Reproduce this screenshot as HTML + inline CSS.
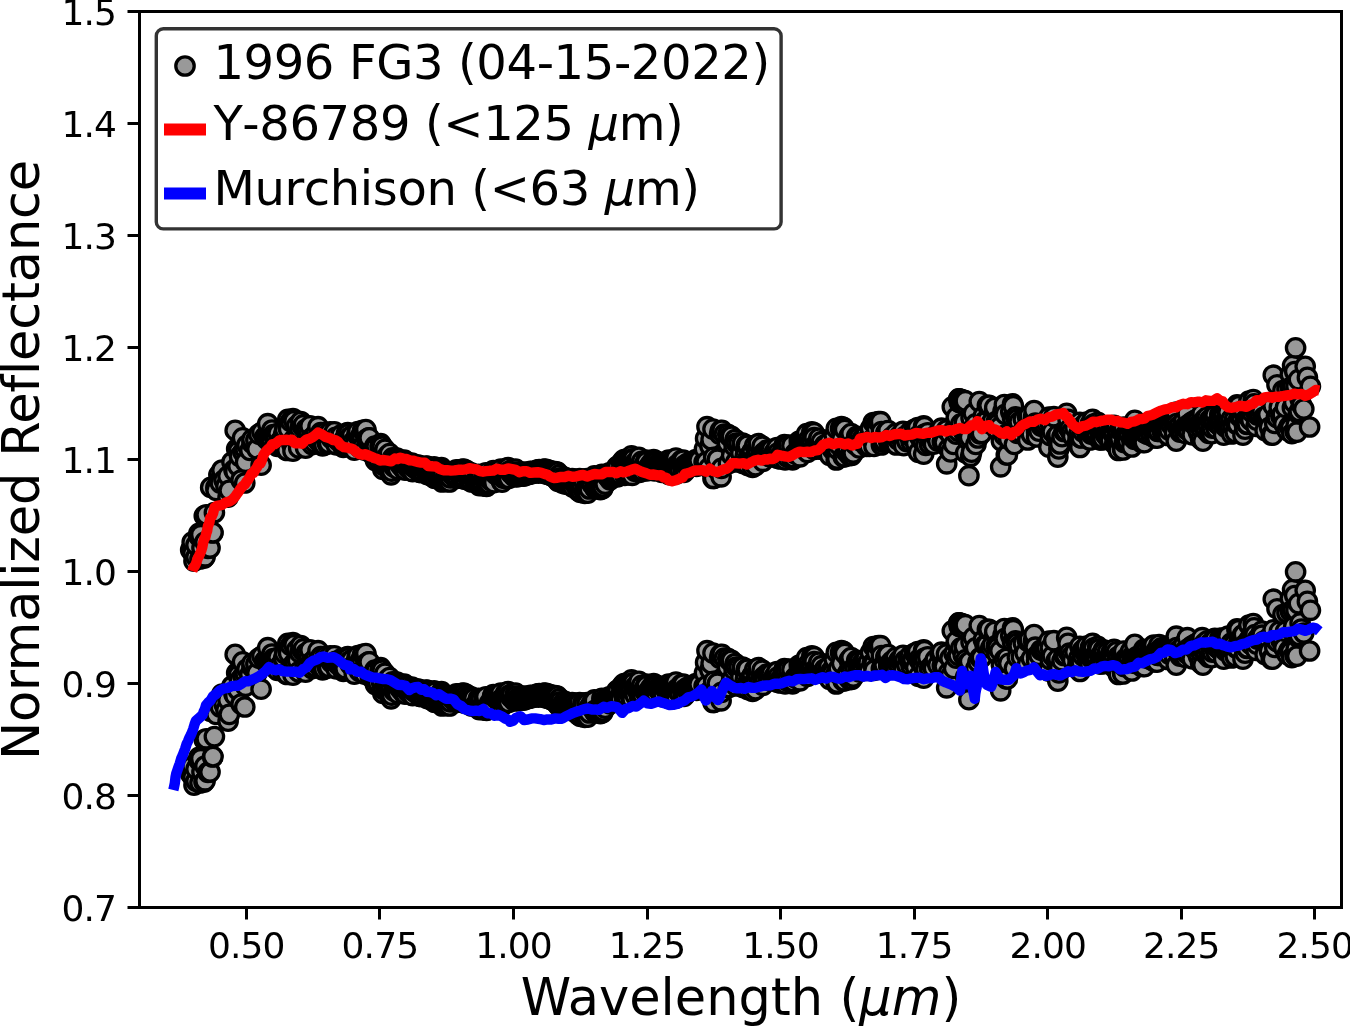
<!DOCTYPE html>
<html><head><meta charset="utf-8"><title>Normalized Reflectance</title>
<style>
html,body{margin:0;padding:0;background:#fff;}
body{width:1350px;height:1033px;overflow:hidden;}
svg{display:block;}
text{font-family:"DejaVu Sans", "Liberation Sans", sans-serif;fill:#000;}
.tk{font-size:36px;letter-spacing:-0.9px;}
.lg{font-size:48px;letter-spacing:-0.38px;font-kerning:none;}
.al{font-size:51px;}
.it{font-style:italic;}
</style></head><body>
<svg width="1350" height="1033" viewBox="0 0 1350 1033">
<rect x="0" y="0" width="1350" height="1033" fill="#fff"/>
<g fill="#999" stroke="#000" stroke-width="3.3"><circle cx="190.7" cy="550.0" r="9.2"/><circle cx="191.7" cy="548.4" r="9.2"/><circle cx="192.2" cy="542.2" r="9.2"/><circle cx="193.0" cy="553.0" r="9.2"/><circle cx="194.0" cy="561.1" r="9.2"/><circle cx="196.0" cy="557.0" r="9.2"/><circle cx="196.0" cy="545.0" r="9.2"/><circle cx="198.7" cy="536.0" r="9.2"/><circle cx="198.9" cy="533.3" r="9.2"/><circle cx="200.0" cy="559.0" r="9.2"/><circle cx="200.9" cy="534.7" r="9.2"/><circle cx="202.0" cy="548.0" r="9.2"/><circle cx="204.0" cy="558.0" r="9.2"/><circle cx="204.3" cy="515.9" r="9.2"/><circle cx="205.0" cy="542.0" r="9.2"/><circle cx="205.1" cy="556.8" r="9.2"/><circle cx="206.3" cy="514.8" r="9.2"/><circle cx="207.9" cy="548.4" r="9.2"/><circle cx="209.4" cy="547.5" r="9.2"/><circle cx="210.0" cy="548.0" r="9.2"/><circle cx="210.7" cy="487.4" r="9.2"/><circle cx="212.6" cy="533.0" r="9.2"/><circle cx="213.0" cy="532.6" r="9.2"/><circle cx="214.4" cy="512.6" r="9.2"/><circle cx="215.9" cy="487.4" r="9.2"/><circle cx="216.2" cy="490.4" r="9.2"/><circle cx="218.9" cy="474.8" r="9.2"/><circle cx="219.6" cy="480.2" r="9.2"/><circle cx="220.4" cy="483.0" r="9.2"/><circle cx="222.0" cy="470.0" r="9.2"/><circle cx="224.0" cy="480.0" r="9.2"/><circle cx="226.0" cy="486.0" r="9.2"/><circle cx="228.0" cy="476.0" r="9.2"/><circle cx="228.1" cy="497.2" r="9.2"/><circle cx="229.3" cy="490.4" r="9.2"/><circle cx="232.0" cy="462.0" r="9.2"/><circle cx="234.0" cy="470.0" r="9.2"/><circle cx="235.0" cy="471.7" r="9.2"/><circle cx="235.2" cy="430.4" r="9.2"/><circle cx="236.7" cy="448.9" r="9.2"/><circle cx="238.0" cy="466.0" r="9.2"/><circle cx="238.4" cy="451.2" r="9.2"/><circle cx="239.6" cy="456.3" r="9.2"/><circle cx="241.1" cy="480.0" r="9.2"/><circle cx="242.6" cy="437.8" r="9.2"/><circle cx="243.0" cy="452.0" r="9.2"/><circle cx="244.8" cy="483.0" r="9.2"/><circle cx="245.2" cy="449.5" r="9.2"/><circle cx="245.6" cy="462.2" r="9.2"/><circle cx="247.0" cy="445.0" r="9.2"/><circle cx="250.0" cy="450.4" r="9.2"/><circle cx="252.0" cy="443.0" r="9.2"/><circle cx="252.0" cy="439.3" r="9.2"/><circle cx="255.9" cy="440.0" r="9.2"/><circle cx="257.0" cy="449.0" r="9.2"/><circle cx="258.8" cy="434.2" r="9.2"/><circle cx="261.1" cy="465.2" r="9.2"/><circle cx="262.0" cy="432.0" r="9.2"/><circle cx="264.7" cy="437.2" r="9.2"/><circle cx="266.3" cy="435.7" r="9.2"/><circle cx="267.2" cy="439.6" r="9.2"/><circle cx="267.8" cy="423.7" r="9.2"/><circle cx="268.5" cy="437.8" r="9.2"/><circle cx="269.4" cy="439.8" r="9.2"/><circle cx="271.2" cy="433.0" r="9.2"/><circle cx="271.8" cy="439.4" r="9.2"/><circle cx="272.0" cy="430.0" r="9.2"/><circle cx="273.3" cy="434.6" r="9.2"/><circle cx="274.6" cy="437.1" r="9.2"/><circle cx="275.5" cy="444.0" r="9.2"/><circle cx="276.0" cy="436.0" r="9.2"/><circle cx="277.3" cy="446.4" r="9.2"/><circle cx="278.2" cy="433.3" r="9.2"/><circle cx="279.7" cy="441.9" r="9.2"/><circle cx="280.8" cy="441.1" r="9.2"/><circle cx="281.9" cy="446.5" r="9.2"/><circle cx="283.6" cy="434.4" r="9.2"/><circle cx="284.7" cy="429.6" r="9.2"/><circle cx="285.6" cy="449.7" r="9.2"/><circle cx="287.1" cy="450.5" r="9.2"/><circle cx="287.8" cy="419.3" r="9.2"/><circle cx="287.9" cy="426.2" r="9.2"/><circle cx="288.7" cy="429.2" r="9.2"/><circle cx="290.5" cy="421.3" r="9.2"/><circle cx="291.8" cy="444.2" r="9.2"/><circle cx="292.9" cy="440.6" r="9.2"/><circle cx="293.0" cy="418.5" r="9.2"/><circle cx="293.0" cy="451.1" r="9.2"/><circle cx="294.1" cy="420.9" r="9.2"/><circle cx="295.0" cy="438.2" r="9.2"/><circle cx="296.7" cy="425.8" r="9.2"/><circle cx="297.6" cy="436.4" r="9.2"/><circle cx="298.7" cy="447.9" r="9.2"/><circle cx="299.9" cy="428.9" r="9.2"/><circle cx="300.8" cy="421.5" r="9.2"/><circle cx="302.4" cy="426.6" r="9.2"/><circle cx="303.6" cy="424.7" r="9.2"/><circle cx="305.1" cy="442.5" r="9.2"/><circle cx="305.6" cy="448.1" r="9.2"/><circle cx="306.2" cy="429.0" r="9.2"/><circle cx="306.9" cy="431.3" r="9.2"/><circle cx="308.0" cy="439.8" r="9.2"/><circle cx="309.2" cy="433.6" r="9.2"/><circle cx="310.1" cy="425.9" r="9.2"/><circle cx="311.0" cy="438.5" r="9.2"/><circle cx="312.1" cy="444.5" r="9.2"/><circle cx="313.5" cy="436.8" r="9.2"/><circle cx="314.5" cy="442.3" r="9.2"/><circle cx="315.8" cy="433.6" r="9.2"/><circle cx="316.8" cy="438.9" r="9.2"/><circle cx="317.9" cy="440.5" r="9.2"/><circle cx="318.1" cy="426.7" r="9.2"/><circle cx="319.4" cy="440.2" r="9.2"/><circle cx="320.8" cy="432.6" r="9.2"/><circle cx="321.6" cy="432.9" r="9.2"/><circle cx="322.6" cy="445.9" r="9.2"/><circle cx="323.1" cy="444.9" r="9.2"/><circle cx="324.0" cy="445.2" r="9.2"/><circle cx="325.4" cy="432.4" r="9.2"/><circle cx="326.8" cy="435.4" r="9.2"/><circle cx="327.6" cy="444.0" r="9.2"/><circle cx="328.7" cy="443.1" r="9.2"/><circle cx="330.2" cy="431.9" r="9.2"/><circle cx="330.8" cy="437.6" r="9.2"/><circle cx="332.3" cy="439.2" r="9.2"/><circle cx="332.9" cy="436.4" r="9.2"/><circle cx="334.0" cy="434.0" r="9.2"/><circle cx="334.4" cy="431.9" r="9.2"/><circle cx="335.7" cy="437.4" r="9.2"/><circle cx="336.3" cy="444.9" r="9.2"/><circle cx="337.8" cy="440.4" r="9.2"/><circle cx="339.1" cy="440.1" r="9.2"/><circle cx="340.0" cy="440.3" r="9.2"/><circle cx="341.2" cy="434.8" r="9.2"/><circle cx="342.5" cy="442.4" r="9.2"/><circle cx="343.3" cy="447.4" r="9.2"/><circle cx="343.5" cy="444.8" r="9.2"/><circle cx="344.1" cy="439.6" r="9.2"/><circle cx="345.2" cy="444.7" r="9.2"/><circle cx="346.5" cy="433.4" r="9.2"/><circle cx="347.8" cy="432.6" r="9.2"/><circle cx="347.9" cy="434.1" r="9.2"/><circle cx="349.3" cy="437.4" r="9.2"/><circle cx="350.3" cy="440.6" r="9.2"/><circle cx="351.7" cy="435.9" r="9.2"/><circle cx="352.5" cy="442.4" r="9.2"/><circle cx="354.3" cy="450.1" r="9.2"/><circle cx="355.7" cy="442.2" r="9.2"/><circle cx="356.9" cy="434.5" r="9.2"/><circle cx="357.9" cy="431.5" r="9.2"/><circle cx="359.5" cy="447.4" r="9.2"/><circle cx="360.3" cy="436.6" r="9.2"/><circle cx="361.8" cy="435.7" r="9.2"/><circle cx="362.6" cy="430.4" r="9.2"/><circle cx="363.2" cy="445.7" r="9.2"/><circle cx="364.7" cy="450.1" r="9.2"/><circle cx="365.7" cy="431.7" r="9.2"/><circle cx="365.9" cy="429.6" r="9.2"/><circle cx="366.8" cy="439.2" r="9.2"/><circle cx="367.0" cy="440.0" r="9.2"/><circle cx="367.9" cy="440.3" r="9.2"/><circle cx="368.9" cy="437.8" r="9.2"/><circle cx="369.3" cy="437.9" r="9.2"/><circle cx="370.3" cy="452.6" r="9.2"/><circle cx="371.9" cy="451.4" r="9.2"/><circle cx="373.9" cy="454.4" r="9.2"/><circle cx="374.8" cy="446.2" r="9.2"/><circle cx="375.5" cy="460.5" r="9.2"/><circle cx="376.3" cy="446.5" r="9.2"/><circle cx="378.0" cy="458.9" r="9.2"/><circle cx="380.1" cy="446.7" r="9.2"/><circle cx="380.7" cy="443.7" r="9.2"/><circle cx="381.7" cy="459.0" r="9.2"/><circle cx="382.2" cy="446.2" r="9.2"/><circle cx="382.9" cy="469.4" r="9.2"/><circle cx="383.3" cy="465.3" r="9.2"/><circle cx="385.0" cy="449.3" r="9.2"/><circle cx="385.9" cy="466.4" r="9.2"/><circle cx="386.7" cy="463.2" r="9.2"/><circle cx="387.5" cy="455.7" r="9.2"/><circle cx="388.6" cy="460.3" r="9.2"/><circle cx="389.6" cy="468.8" r="9.2"/><circle cx="389.6" cy="453.6" r="9.2"/><circle cx="390.3" cy="472.4" r="9.2"/><circle cx="390.6" cy="463.1" r="9.2"/><circle cx="391.1" cy="474.8" r="9.2"/><circle cx="391.7" cy="471.1" r="9.2"/><circle cx="392.6" cy="457.9" r="9.2"/><circle cx="393.8" cy="466.8" r="9.2"/><circle cx="394.4" cy="460.8" r="9.2"/><circle cx="395.2" cy="458.2" r="9.2"/><circle cx="396.1" cy="466.5" r="9.2"/><circle cx="397.0" cy="466.6" r="9.2"/><circle cx="397.0" cy="458.0" r="9.2"/><circle cx="397.7" cy="469.4" r="9.2"/><circle cx="398.0" cy="460.1" r="9.2"/><circle cx="398.8" cy="462.8" r="9.2"/><circle cx="399.6" cy="462.3" r="9.2"/><circle cx="400.7" cy="465.5" r="9.2"/><circle cx="401.3" cy="463.5" r="9.2"/><circle cx="402.7" cy="463.5" r="9.2"/><circle cx="403.6" cy="469.0" r="9.2"/><circle cx="403.9" cy="464.7" r="9.2"/><circle cx="404.4" cy="460.2" r="9.2"/><circle cx="405.1" cy="470.1" r="9.2"/><circle cx="405.5" cy="462.8" r="9.2"/><circle cx="406.0" cy="465.7" r="9.2"/><circle cx="407.3" cy="466.9" r="9.2"/><circle cx="407.7" cy="462.5" r="9.2"/><circle cx="408.7" cy="468.3" r="9.2"/><circle cx="409.4" cy="469.2" r="9.2"/><circle cx="410.0" cy="468.3" r="9.2"/><circle cx="411.3" cy="468.0" r="9.2"/><circle cx="411.9" cy="463.2" r="9.2"/><circle cx="412.4" cy="471.2" r="9.2"/><circle cx="412.6" cy="471.6" r="9.2"/><circle cx="412.7" cy="466.1" r="9.2"/><circle cx="413.8" cy="467.3" r="9.2"/><circle cx="414.6" cy="464.8" r="9.2"/><circle cx="415.3" cy="468.1" r="9.2"/><circle cx="416.5" cy="466.5" r="9.2"/><circle cx="417.6" cy="465.2" r="9.2"/><circle cx="418.2" cy="470.8" r="9.2"/><circle cx="419.2" cy="471.1" r="9.2"/><circle cx="419.3" cy="465.4" r="9.2"/><circle cx="420.0" cy="472.4" r="9.2"/><circle cx="420.2" cy="468.2" r="9.2"/><circle cx="421.0" cy="472.5" r="9.2"/><circle cx="421.6" cy="469.3" r="9.2"/><circle cx="422.5" cy="471.4" r="9.2"/><circle cx="424.1" cy="468.7" r="9.2"/><circle cx="424.5" cy="467.7" r="9.2"/><circle cx="425.3" cy="466.6" r="9.2"/><circle cx="426.4" cy="470.8" r="9.2"/><circle cx="426.7" cy="466.2" r="9.2"/><circle cx="426.9" cy="466.4" r="9.2"/><circle cx="427.4" cy="474.6" r="9.2"/><circle cx="428.3" cy="467.5" r="9.2"/><circle cx="429.4" cy="472.1" r="9.2"/><circle cx="429.9" cy="473.3" r="9.2"/><circle cx="430.6" cy="470.6" r="9.2"/><circle cx="431.6" cy="476.2" r="9.2"/><circle cx="432.1" cy="475.3" r="9.2"/><circle cx="433.5" cy="473.3" r="9.2"/><circle cx="434.1" cy="466.9" r="9.2"/><circle cx="434.3" cy="477.8" r="9.2"/><circle cx="434.8" cy="478.3" r="9.2"/><circle cx="434.9" cy="468.4" r="9.2"/><circle cx="436.0" cy="473.4" r="9.2"/><circle cx="436.7" cy="475.1" r="9.2"/><circle cx="437.7" cy="477.5" r="9.2"/><circle cx="438.7" cy="474.7" r="9.2"/><circle cx="439.4" cy="471.0" r="9.2"/><circle cx="440.6" cy="471.6" r="9.2"/><circle cx="441.3" cy="476.4" r="9.2"/><circle cx="441.5" cy="467.6" r="9.2"/><circle cx="442.2" cy="482.0" r="9.2"/><circle cx="442.2" cy="469.6" r="9.2"/><circle cx="442.2" cy="470.8" r="9.2"/><circle cx="443.1" cy="473.4" r="9.2"/><circle cx="444.0" cy="480.9" r="9.2"/><circle cx="445.5" cy="479.6" r="9.2"/><circle cx="446.1" cy="473.3" r="9.2"/><circle cx="447.0" cy="480.2" r="9.2"/><circle cx="448.2" cy="481.5" r="9.2"/><circle cx="448.7" cy="480.4" r="9.2"/><circle cx="448.9" cy="472.8" r="9.2"/><circle cx="449.6" cy="482.0" r="9.2"/><circle cx="449.9" cy="472.6" r="9.2"/><circle cx="450.3" cy="477.9" r="9.2"/><circle cx="451.5" cy="472.6" r="9.2"/><circle cx="452.1" cy="474.8" r="9.2"/><circle cx="453.2" cy="475.2" r="9.2"/><circle cx="454.3" cy="475.3" r="9.2"/><circle cx="455.1" cy="471.6" r="9.2"/><circle cx="455.7" cy="478.0" r="9.2"/><circle cx="456.3" cy="469.9" r="9.2"/><circle cx="456.8" cy="472.8" r="9.2"/><circle cx="457.0" cy="478.3" r="9.2"/><circle cx="457.3" cy="476.9" r="9.2"/><circle cx="458.2" cy="470.3" r="9.2"/><circle cx="459.0" cy="473.2" r="9.2"/><circle cx="459.9" cy="475.4" r="9.2"/><circle cx="460.6" cy="469.6" r="9.2"/><circle cx="461.5" cy="477.9" r="9.2"/><circle cx="462.2" cy="469.9" r="9.2"/><circle cx="462.6" cy="469.4" r="9.2"/><circle cx="463.4" cy="472.4" r="9.2"/><circle cx="463.7" cy="469.1" r="9.2"/><circle cx="464.1" cy="473.4" r="9.2"/><circle cx="464.4" cy="479.0" r="9.2"/><circle cx="465.5" cy="479.0" r="9.2"/><circle cx="466.3" cy="470.4" r="9.2"/><circle cx="467.1" cy="476.0" r="9.2"/><circle cx="468.0" cy="476.2" r="9.2"/><circle cx="468.6" cy="472.0" r="9.2"/><circle cx="469.6" cy="480.8" r="9.2"/><circle cx="470.2" cy="475.3" r="9.2"/><circle cx="471.1" cy="472.8" r="9.2"/><circle cx="471.3" cy="476.7" r="9.2"/><circle cx="471.8" cy="482.0" r="9.2"/><circle cx="471.8" cy="476.1" r="9.2"/><circle cx="473.2" cy="478.0" r="9.2"/><circle cx="473.9" cy="474.3" r="9.2"/><circle cx="474.8" cy="481.6" r="9.2"/><circle cx="476.0" cy="482.2" r="9.2"/><circle cx="476.7" cy="481.5" r="9.2"/><circle cx="477.6" cy="483.7" r="9.2"/><circle cx="478.5" cy="474.3" r="9.2"/><circle cx="478.7" cy="482.6" r="9.2"/><circle cx="479.2" cy="485.7" r="9.2"/><circle cx="479.4" cy="482.1" r="9.2"/><circle cx="480.6" cy="477.8" r="9.2"/><circle cx="481.2" cy="474.9" r="9.2"/><circle cx="482.3" cy="482.1" r="9.2"/><circle cx="483.4" cy="485.8" r="9.2"/><circle cx="484.3" cy="475.0" r="9.2"/><circle cx="484.9" cy="475.6" r="9.2"/><circle cx="485.9" cy="472.8" r="9.2"/><circle cx="486.2" cy="486.2" r="9.2"/><circle cx="486.6" cy="486.4" r="9.2"/><circle cx="486.8" cy="484.2" r="9.2"/><circle cx="488.0" cy="483.0" r="9.2"/><circle cx="488.6" cy="483.5" r="9.2"/><circle cx="489.5" cy="479.2" r="9.2"/><circle cx="490.8" cy="480.7" r="9.2"/><circle cx="492.0" cy="479.9" r="9.2"/><circle cx="492.6" cy="472.5" r="9.2"/><circle cx="493.3" cy="470.6" r="9.2"/><circle cx="493.6" cy="478.0" r="9.2"/><circle cx="494.0" cy="482.7" r="9.2"/><circle cx="494.2" cy="472.0" r="9.2"/><circle cx="495.4" cy="474.2" r="9.2"/><circle cx="496.6" cy="474.0" r="9.2"/><circle cx="497.3" cy="474.5" r="9.2"/><circle cx="498.3" cy="471.0" r="9.2"/><circle cx="499.4" cy="470.8" r="9.2"/><circle cx="500.1" cy="472.6" r="9.2"/><circle cx="500.7" cy="469.1" r="9.2"/><circle cx="501.3" cy="475.1" r="9.2"/><circle cx="501.4" cy="481.3" r="9.2"/><circle cx="502.1" cy="477.7" r="9.2"/><circle cx="502.2" cy="482.2" r="9.2"/><circle cx="503.3" cy="478.1" r="9.2"/><circle cx="504.2" cy="477.6" r="9.2"/><circle cx="505.0" cy="472.4" r="9.2"/><circle cx="505.7" cy="468.8" r="9.2"/><circle cx="506.8" cy="478.8" r="9.2"/><circle cx="507.7" cy="468.1" r="9.2"/><circle cx="508.1" cy="467.6" r="9.2"/><circle cx="508.6" cy="473.2" r="9.2"/><circle cx="508.8" cy="478.3" r="9.2"/><circle cx="509.4" cy="471.1" r="9.2"/><circle cx="510.6" cy="471.2" r="9.2"/><circle cx="511.1" cy="473.5" r="9.2"/><circle cx="512.2" cy="469.7" r="9.2"/><circle cx="513.6" cy="476.1" r="9.2"/><circle cx="514.1" cy="476.3" r="9.2"/><circle cx="515.1" cy="476.1" r="9.2"/><circle cx="515.6" cy="469.1" r="9.2"/><circle cx="515.8" cy="472.0" r="9.2"/><circle cx="516.3" cy="476.8" r="9.2"/><circle cx="517.2" cy="474.7" r="9.2"/><circle cx="518.1" cy="476.5" r="9.2"/><circle cx="518.9" cy="476.0" r="9.2"/><circle cx="520.3" cy="473.2" r="9.2"/><circle cx="520.7" cy="474.5" r="9.2"/><circle cx="521.5" cy="472.9" r="9.2"/><circle cx="522.4" cy="473.0" r="9.2"/><circle cx="523.0" cy="472.1" r="9.2"/><circle cx="523.3" cy="475.4" r="9.2"/><circle cx="523.7" cy="476.1" r="9.2"/><circle cx="524.1" cy="475.6" r="9.2"/><circle cx="525.2" cy="472.3" r="9.2"/><circle cx="526.4" cy="474.8" r="9.2"/><circle cx="526.7" cy="474.2" r="9.2"/><circle cx="528.0" cy="474.6" r="9.2"/><circle cx="528.5" cy="473.1" r="9.2"/><circle cx="529.6" cy="473.7" r="9.2"/><circle cx="530.4" cy="471.3" r="9.2"/><circle cx="530.4" cy="473.6" r="9.2"/><circle cx="531.1" cy="473.8" r="9.2"/><circle cx="531.3" cy="471.7" r="9.2"/><circle cx="532.4" cy="473.3" r="9.2"/><circle cx="533.4" cy="472.4" r="9.2"/><circle cx="534.3" cy="472.5" r="9.2"/><circle cx="535.3" cy="472.5" r="9.2"/><circle cx="535.9" cy="471.2" r="9.2"/><circle cx="536.7" cy="470.7" r="9.2"/><circle cx="537.8" cy="469.9" r="9.2"/><circle cx="538.0" cy="470.7" r="9.2"/><circle cx="538.5" cy="473.1" r="9.2"/><circle cx="538.6" cy="471.2" r="9.2"/><circle cx="539.2" cy="469.7" r="9.2"/><circle cx="540.0" cy="471.7" r="9.2"/><circle cx="540.8" cy="470.6" r="9.2"/><circle cx="542.0" cy="471.2" r="9.2"/><circle cx="542.7" cy="469.7" r="9.2"/><circle cx="543.8" cy="469.3" r="9.2"/><circle cx="544.3" cy="473.2" r="9.2"/><circle cx="545.2" cy="469.1" r="9.2"/><circle cx="545.4" cy="469.6" r="9.2"/><circle cx="545.9" cy="473.8" r="9.2"/><circle cx="546.6" cy="473.8" r="9.2"/><circle cx="547.6" cy="469.8" r="9.2"/><circle cx="548.5" cy="474.1" r="9.2"/><circle cx="549.3" cy="473.2" r="9.2"/><circle cx="549.6" cy="474.6" r="9.2"/><circle cx="550.0" cy="470.6" r="9.2"/><circle cx="550.7" cy="475.3" r="9.2"/><circle cx="550.8" cy="472.1" r="9.2"/><circle cx="551.6" cy="473.1" r="9.2"/><circle cx="552.8" cy="476.4" r="9.2"/><circle cx="553.1" cy="471.6" r="9.2"/><circle cx="553.9" cy="476.8" r="9.2"/><circle cx="555.2" cy="471.6" r="9.2"/><circle cx="556.1" cy="477.1" r="9.2"/><circle cx="556.6" cy="472.6" r="9.2"/><circle cx="557.4" cy="472.1" r="9.2"/><circle cx="557.7" cy="480.5" r="9.2"/><circle cx="558.1" cy="481.3" r="9.2"/><circle cx="558.8" cy="477.0" r="9.2"/><circle cx="559.6" cy="474.5" r="9.2"/><circle cx="560.1" cy="477.8" r="9.2"/><circle cx="561.2" cy="481.6" r="9.2"/><circle cx="562.1" cy="480.9" r="9.2"/><circle cx="562.5" cy="483.2" r="9.2"/><circle cx="563.6" cy="482.7" r="9.2"/><circle cx="564.3" cy="479.0" r="9.2"/><circle cx="564.8" cy="477.3" r="9.2"/><circle cx="565.5" cy="484.2" r="9.2"/><circle cx="565.8" cy="482.4" r="9.2"/><circle cx="566.3" cy="479.5" r="9.2"/><circle cx="567.1" cy="483.6" r="9.2"/><circle cx="568.1" cy="480.4" r="9.2"/><circle cx="568.9" cy="482.7" r="9.2"/><circle cx="570.0" cy="485.0" r="9.2"/><circle cx="570.8" cy="480.5" r="9.2"/><circle cx="571.7" cy="485.2" r="9.2"/><circle cx="572.2" cy="478.7" r="9.2"/><circle cx="572.9" cy="481.9" r="9.2"/><circle cx="572.9" cy="487.2" r="9.2"/><circle cx="573.7" cy="479.0" r="9.2"/><circle cx="574.5" cy="483.7" r="9.2"/><circle cx="575.7" cy="480.8" r="9.2"/><circle cx="576.4" cy="482.1" r="9.2"/><circle cx="577.5" cy="484.0" r="9.2"/><circle cx="578.0" cy="490.6" r="9.2"/><circle cx="579.5" cy="491.0" r="9.2"/><circle cx="579.6" cy="478.7" r="9.2"/><circle cx="580.3" cy="492.4" r="9.2"/><circle cx="580.3" cy="490.6" r="9.2"/><circle cx="580.9" cy="485.8" r="9.2"/><circle cx="582.0" cy="487.0" r="9.2"/><circle cx="583.0" cy="479.0" r="9.2"/><circle cx="583.5" cy="480.6" r="9.2"/><circle cx="584.5" cy="490.7" r="9.2"/><circle cx="584.8" cy="493.3" r="9.2"/><circle cx="585.4" cy="490.5" r="9.2"/><circle cx="586.2" cy="491.6" r="9.2"/><circle cx="587.0" cy="478.7" r="9.2"/><circle cx="587.2" cy="479.5" r="9.2"/><circle cx="587.7" cy="491.8" r="9.2"/><circle cx="587.7" cy="493.1" r="9.2"/><circle cx="588.8" cy="484.1" r="9.2"/><circle cx="589.4" cy="489.0" r="9.2"/><circle cx="590.5" cy="481.6" r="9.2"/><circle cx="591.6" cy="479.7" r="9.2"/><circle cx="592.4" cy="484.7" r="9.2"/><circle cx="593.5" cy="477.5" r="9.2"/><circle cx="594.4" cy="475.8" r="9.2"/><circle cx="594.6" cy="476.7" r="9.2"/><circle cx="595.1" cy="488.7" r="9.2"/><circle cx="595.5" cy="486.0" r="9.2"/><circle cx="596.1" cy="487.5" r="9.2"/><circle cx="597.0" cy="488.3" r="9.2"/><circle cx="598.0" cy="488.3" r="9.2"/><circle cx="599.0" cy="487.2" r="9.2"/><circle cx="600.1" cy="484.7" r="9.2"/><circle cx="600.4" cy="489.6" r="9.2"/><circle cx="600.7" cy="483.7" r="9.2"/><circle cx="601.9" cy="474.3" r="9.2"/><circle cx="602.0" cy="478.3" r="9.2"/><circle cx="602.6" cy="488.7" r="9.2"/><circle cx="603.0" cy="487.0" r="9.2"/><circle cx="603.8" cy="480.3" r="9.2"/><circle cx="604.8" cy="475.9" r="9.2"/><circle cx="605.2" cy="484.1" r="9.2"/><circle cx="606.3" cy="475.1" r="9.2"/><circle cx="607.1" cy="475.5" r="9.2"/><circle cx="608.4" cy="477.1" r="9.2"/><circle cx="608.6" cy="474.2" r="9.2"/><circle cx="609.3" cy="472.8" r="9.2"/><circle cx="610.0" cy="479.8" r="9.2"/><circle cx="610.1" cy="477.9" r="9.2"/><circle cx="610.8" cy="475.0" r="9.2"/><circle cx="611.4" cy="476.7" r="9.2"/><circle cx="612.7" cy="475.0" r="9.2"/><circle cx="613.3" cy="473.2" r="9.2"/><circle cx="614.1" cy="473.1" r="9.2"/><circle cx="615.4" cy="469.8" r="9.2"/><circle cx="616.0" cy="473.7" r="9.2"/><circle cx="616.7" cy="466.9" r="9.2"/><circle cx="617.1" cy="473.4" r="9.2"/><circle cx="617.4" cy="476.8" r="9.2"/><circle cx="618.0" cy="466.2" r="9.2"/><circle cx="618.9" cy="473.7" r="9.2"/><circle cx="619.8" cy="475.6" r="9.2"/><circle cx="620.8" cy="475.2" r="9.2"/><circle cx="621.6" cy="462.8" r="9.2"/><circle cx="622.3" cy="461.4" r="9.2"/><circle cx="623.7" cy="469.7" r="9.2"/><circle cx="624.1" cy="459.5" r="9.2"/><circle cx="624.5" cy="462.3" r="9.2"/><circle cx="624.8" cy="475.3" r="9.2"/><circle cx="625.0" cy="473.2" r="9.2"/><circle cx="626.4" cy="459.2" r="9.2"/><circle cx="627.2" cy="473.0" r="9.2"/><circle cx="627.7" cy="467.6" r="9.2"/><circle cx="628.7" cy="459.9" r="9.2"/><circle cx="629.5" cy="468.5" r="9.2"/><circle cx="630.6" cy="462.9" r="9.2"/><circle cx="631.3" cy="474.9" r="9.2"/><circle cx="631.5" cy="455.8" r="9.2"/><circle cx="632.2" cy="475.3" r="9.2"/><circle cx="632.4" cy="459.0" r="9.2"/><circle cx="633.3" cy="458.8" r="9.2"/><circle cx="633.8" cy="466.4" r="9.2"/><circle cx="634.8" cy="463.0" r="9.2"/><circle cx="635.2" cy="471.3" r="9.2"/><circle cx="636.3" cy="463.9" r="9.2"/><circle cx="637.3" cy="461.4" r="9.2"/><circle cx="637.9" cy="467.2" r="9.2"/><circle cx="638.9" cy="457.3" r="9.2"/><circle cx="639.3" cy="466.4" r="9.2"/><circle cx="639.6" cy="472.4" r="9.2"/><circle cx="640.1" cy="465.8" r="9.2"/><circle cx="641.4" cy="470.9" r="9.2"/><circle cx="641.8" cy="461.3" r="9.2"/><circle cx="642.8" cy="471.1" r="9.2"/><circle cx="643.8" cy="465.9" r="9.2"/><circle cx="644.8" cy="463.9" r="9.2"/><circle cx="646.1" cy="468.4" r="9.2"/><circle cx="646.3" cy="460.2" r="9.2"/><circle cx="646.5" cy="461.8" r="9.2"/><circle cx="647.0" cy="470.9" r="9.2"/><circle cx="647.3" cy="468.4" r="9.2"/><circle cx="648.4" cy="470.1" r="9.2"/><circle cx="649.5" cy="469.7" r="9.2"/><circle cx="650.2" cy="468.9" r="9.2"/><circle cx="650.6" cy="463.8" r="9.2"/><circle cx="651.5" cy="468.3" r="9.2"/><circle cx="652.7" cy="463.7" r="9.2"/><circle cx="653.4" cy="463.1" r="9.2"/><circle cx="653.7" cy="459.5" r="9.2"/><circle cx="654.4" cy="470.9" r="9.2"/><circle cx="654.6" cy="468.6" r="9.2"/><circle cx="655.0" cy="461.2" r="9.2"/><circle cx="656.4" cy="469.7" r="9.2"/><circle cx="656.7" cy="461.3" r="9.2"/><circle cx="657.8" cy="465.2" r="9.2"/><circle cx="659.1" cy="462.6" r="9.2"/><circle cx="659.5" cy="467.0" r="9.2"/><circle cx="660.9" cy="464.8" r="9.2"/><circle cx="661.1" cy="462.5" r="9.2"/><circle cx="661.7" cy="469.6" r="9.2"/><circle cx="661.8" cy="472.4" r="9.2"/><circle cx="662.5" cy="462.9" r="9.2"/><circle cx="663.5" cy="470.7" r="9.2"/><circle cx="664.2" cy="463.1" r="9.2"/><circle cx="665.8" cy="463.4" r="9.2"/><circle cx="666.4" cy="466.8" r="9.2"/><circle cx="666.9" cy="464.4" r="9.2"/><circle cx="668.1" cy="465.6" r="9.2"/><circle cx="668.5" cy="460.2" r="9.2"/><circle cx="668.6" cy="466.4" r="9.2"/><circle cx="669.2" cy="474.6" r="9.2"/><circle cx="669.3" cy="463.0" r="9.2"/><circle cx="670.5" cy="474.1" r="9.2"/><circle cx="671.4" cy="463.8" r="9.2"/><circle cx="672.1" cy="468.4" r="9.2"/><circle cx="672.7" cy="466.6" r="9.2"/><circle cx="673.4" cy="465.6" r="9.2"/><circle cx="674.3" cy="469.1" r="9.2"/><circle cx="675.4" cy="469.3" r="9.2"/><circle cx="675.9" cy="458.0" r="9.2"/><circle cx="676.2" cy="466.3" r="9.2"/><circle cx="676.6" cy="473.8" r="9.2"/><circle cx="676.8" cy="465.2" r="9.2"/><circle cx="677.8" cy="466.9" r="9.2"/><circle cx="678.6" cy="464.8" r="9.2"/><circle cx="679.6" cy="469.0" r="9.2"/><circle cx="680.6" cy="462.7" r="9.2"/><circle cx="681.2" cy="460.6" r="9.2"/><circle cx="682.0" cy="463.7" r="9.2"/><circle cx="683.1" cy="471.6" r="9.2"/><circle cx="683.3" cy="460.2" r="9.2"/><circle cx="683.8" cy="470.9" r="9.2"/><circle cx="684.0" cy="472.4" r="9.2"/><circle cx="684.2" cy="465.7" r="9.2"/><circle cx="685.3" cy="470.4" r="9.2"/><circle cx="686.3" cy="465.0" r="9.2"/><circle cx="687.4" cy="463.3" r="9.2"/><circle cx="688.1" cy="467.6" r="9.2"/><circle cx="688.9" cy="467.1" r="9.2"/><circle cx="690.0" cy="462.6" r="9.2"/><circle cx="690.7" cy="464.9" r="9.2"/><circle cx="690.7" cy="462.5" r="9.2"/><circle cx="691.4" cy="466.4" r="9.2"/><circle cx="691.7" cy="465.2" r="9.2"/><circle cx="692.8" cy="466.0" r="9.2"/><circle cx="693.7" cy="462.4" r="9.2"/><circle cx="694.6" cy="462.7" r="9.2"/><circle cx="695.2" cy="463.2" r="9.2"/><circle cx="695.9" cy="459.5" r="9.2"/><circle cx="696.5" cy="464.9" r="9.2"/><circle cx="696.6" cy="466.4" r="9.2"/><circle cx="696.9" cy="460.3" r="9.2"/><circle cx="698.4" cy="462.6" r="9.2"/><circle cx="699.2" cy="460.3" r="9.2"/><circle cx="704.1" cy="462.2" r="9.2"/><circle cx="704.5" cy="448.9" r="9.2"/><circle cx="705.6" cy="438.5" r="9.2"/><circle cx="706.3" cy="461.8" r="9.2"/><circle cx="707.0" cy="426.7" r="9.2"/><circle cx="708.8" cy="468.2" r="9.2"/><circle cx="710.0" cy="445.9" r="9.2"/><circle cx="711.2" cy="439.7" r="9.2"/><circle cx="713.0" cy="429.1" r="9.2"/><circle cx="713.0" cy="478.5" r="9.2"/><circle cx="713.7" cy="478.3" r="9.2"/><circle cx="713.7" cy="457.3" r="9.2"/><circle cx="716.2" cy="468.9" r="9.2"/><circle cx="717.4" cy="459.3" r="9.2"/><circle cx="719.6" cy="434.1" r="9.2"/><circle cx="720.4" cy="430.6" r="9.2"/><circle cx="721.1" cy="476.8" r="9.2"/><circle cx="721.5" cy="468.3" r="9.2"/><circle cx="721.9" cy="430.4" r="9.2"/><circle cx="724.3" cy="434.2" r="9.2"/><circle cx="727.6" cy="443.2" r="9.2"/><circle cx="727.8" cy="434.3" r="9.2"/><circle cx="728.5" cy="463.5" r="9.2"/><circle cx="729.7" cy="436.6" r="9.2"/><circle cx="731.5" cy="436.3" r="9.2"/><circle cx="731.7" cy="455.4" r="9.2"/><circle cx="734.2" cy="446.2" r="9.2"/><circle cx="735.2" cy="439.5" r="9.2"/><circle cx="735.9" cy="462.0" r="9.2"/><circle cx="736.3" cy="443.1" r="9.2"/><circle cx="739.0" cy="443.1" r="9.2"/><circle cx="741.0" cy="453.5" r="9.2"/><circle cx="742.6" cy="443.9" r="9.2"/><circle cx="742.6" cy="443.0" r="9.2"/><circle cx="743.3" cy="463.5" r="9.2"/><circle cx="744.1" cy="461.0" r="9.2"/><circle cx="745.4" cy="455.5" r="9.2"/><circle cx="746.4" cy="445.1" r="9.2"/><circle cx="747.4" cy="445.4" r="9.2"/><circle cx="748.1" cy="465.7" r="9.2"/><circle cx="748.3" cy="457.8" r="9.2"/><circle cx="749.3" cy="456.0" r="9.2"/><circle cx="751.3" cy="453.3" r="9.2"/><circle cx="752.3" cy="451.2" r="9.2"/><circle cx="752.6" cy="467.4" r="9.2"/><circle cx="754.0" cy="458.3" r="9.2"/><circle cx="754.8" cy="445.4" r="9.2"/><circle cx="755.5" cy="459.4" r="9.2"/><circle cx="755.5" cy="465.7" r="9.2"/><circle cx="756.7" cy="449.3" r="9.2"/><circle cx="758.3" cy="452.7" r="9.2"/><circle cx="758.5" cy="443.7" r="9.2"/><circle cx="760.4" cy="457.0" r="9.2"/><circle cx="761.9" cy="450.5" r="9.2"/><circle cx="762.2" cy="446.2" r="9.2"/><circle cx="762.9" cy="461.3" r="9.2"/><circle cx="763.6" cy="452.8" r="9.2"/><circle cx="765.0" cy="454.5" r="9.2"/><circle cx="766.9" cy="450.1" r="9.2"/><circle cx="768.5" cy="456.4" r="9.2"/><circle cx="769.6" cy="449.9" r="9.2"/><circle cx="769.9" cy="452.4" r="9.2"/><circle cx="770.3" cy="456.8" r="9.2"/><circle cx="771.4" cy="449.3" r="9.2"/><circle cx="773.5" cy="454.7" r="9.2"/><circle cx="774.4" cy="452.2" r="9.2"/><circle cx="775.9" cy="450.9" r="9.2"/><circle cx="777.0" cy="447.6" r="9.2"/><circle cx="777.7" cy="453.2" r="9.2"/><circle cx="777.7" cy="458.3" r="9.2"/><circle cx="779.1" cy="456.9" r="9.2"/><circle cx="780.6" cy="459.0" r="9.2"/><circle cx="781.6" cy="454.6" r="9.2"/><circle cx="783.1" cy="450.4" r="9.2"/><circle cx="784.4" cy="444.7" r="9.2"/><circle cx="784.5" cy="449.2" r="9.2"/><circle cx="785.1" cy="459.8" r="9.2"/><circle cx="786.0" cy="446.1" r="9.2"/><circle cx="787.0" cy="456.9" r="9.2"/><circle cx="788.6" cy="445.1" r="9.2"/><circle cx="790.7" cy="456.3" r="9.2"/><circle cx="791.7" cy="452.4" r="9.2"/><circle cx="791.9" cy="445.4" r="9.2"/><circle cx="792.6" cy="459.8" r="9.2"/><circle cx="793.3" cy="457.5" r="9.2"/><circle cx="794.9" cy="453.6" r="9.2"/><circle cx="796.2" cy="452.8" r="9.2"/><circle cx="798.3" cy="453.8" r="9.2"/><circle cx="799.3" cy="441.0" r="9.2"/><circle cx="799.6" cy="444.4" r="9.2"/><circle cx="800.0" cy="456.8" r="9.2"/><circle cx="801.3" cy="441.6" r="9.2"/><circle cx="802.2" cy="442.9" r="9.2"/><circle cx="804.1" cy="443.4" r="9.2"/><circle cx="805.1" cy="440.0" r="9.2"/><circle cx="806.5" cy="444.7" r="9.2"/><circle cx="806.7" cy="433.6" r="9.2"/><circle cx="807.4" cy="452.4" r="9.2"/><circle cx="808.0" cy="440.3" r="9.2"/><circle cx="809.2" cy="445.4" r="9.2"/><circle cx="810.3" cy="442.2" r="9.2"/><circle cx="811.9" cy="431.9" r="9.2"/><circle cx="812.1" cy="440.9" r="9.2"/><circle cx="813.4" cy="448.9" r="9.2"/><circle cx="814.1" cy="432.8" r="9.2"/><circle cx="814.2" cy="437.5" r="9.2"/><circle cx="814.8" cy="449.4" r="9.2"/><circle cx="815.8" cy="444.6" r="9.2"/><circle cx="817.5" cy="445.3" r="9.2"/><circle cx="818.8" cy="438.4" r="9.2"/><circle cx="820.5" cy="445.5" r="9.2"/><circle cx="821.5" cy="441.7" r="9.2"/><circle cx="822.0" cy="449.4" r="9.2"/><circle cx="822.2" cy="449.4" r="9.2"/><circle cx="823.1" cy="447.6" r="9.2"/><circle cx="824.8" cy="445.0" r="9.2"/><circle cx="826.2" cy="450.2" r="9.2"/><circle cx="827.9" cy="443.5" r="9.2"/><circle cx="828.9" cy="442.5" r="9.2"/><circle cx="829.2" cy="451.9" r="9.2"/><circle cx="829.6" cy="455.3" r="9.2"/><circle cx="831.2" cy="446.8" r="9.2"/><circle cx="832.5" cy="449.6" r="9.2"/><circle cx="834.3" cy="435.4" r="9.2"/><circle cx="835.4" cy="451.1" r="9.2"/><circle cx="836.3" cy="428.4" r="9.2"/><circle cx="836.3" cy="460.0" r="9.2"/><circle cx="837.0" cy="459.0" r="9.2"/><circle cx="837.3" cy="449.1" r="9.2"/><circle cx="838.5" cy="444.6" r="9.2"/><circle cx="840.6" cy="428.7" r="9.2"/><circle cx="841.5" cy="426.7" r="9.2"/><circle cx="841.7" cy="439.3" r="9.2"/><circle cx="843.2" cy="456.9" r="9.2"/><circle cx="843.7" cy="427.6" r="9.2"/><circle cx="844.4" cy="456.8" r="9.2"/><circle cx="844.7" cy="429.5" r="9.2"/><circle cx="846.3" cy="451.9" r="9.2"/><circle cx="847.6" cy="449.1" r="9.2"/><circle cx="849.2" cy="435.9" r="9.2"/><circle cx="849.6" cy="455.6" r="9.2"/><circle cx="850.2" cy="443.5" r="9.2"/><circle cx="851.1" cy="433.6" r="9.2"/><circle cx="851.8" cy="455.3" r="9.2"/><circle cx="852.3" cy="445.4" r="9.2"/><circle cx="853.3" cy="452.9" r="9.2"/><circle cx="855.1" cy="444.4" r="9.2"/><circle cx="856.7" cy="436.4" r="9.2"/><circle cx="858.2" cy="444.6" r="9.2"/><circle cx="858.5" cy="436.5" r="9.2"/><circle cx="859.2" cy="447.9" r="9.2"/><circle cx="859.4" cy="437.3" r="9.2"/><circle cx="860.8" cy="441.2" r="9.2"/><circle cx="862.4" cy="441.0" r="9.2"/><circle cx="863.4" cy="437.1" r="9.2"/><circle cx="865.5" cy="439.3" r="9.2"/><circle cx="865.9" cy="435.0" r="9.2"/><circle cx="866.6" cy="440.6" r="9.2"/><circle cx="866.6" cy="446.4" r="9.2"/><circle cx="868.3" cy="438.7" r="9.2"/><circle cx="869.4" cy="446.4" r="9.2"/><circle cx="870.6" cy="428.4" r="9.2"/><circle cx="872.3" cy="439.4" r="9.2"/><circle cx="873.3" cy="422.5" r="9.2"/><circle cx="874.0" cy="439.8" r="9.2"/><circle cx="874.0" cy="446.4" r="9.2"/><circle cx="875.5" cy="424.6" r="9.2"/><circle cx="876.8" cy="429.6" r="9.2"/><circle cx="878.2" cy="421.9" r="9.2"/><circle cx="878.5" cy="421.5" r="9.2"/><circle cx="879.9" cy="423.1" r="9.2"/><circle cx="880.7" cy="421.7" r="9.2"/><circle cx="881.4" cy="445.0" r="9.2"/><circle cx="881.5" cy="431.7" r="9.2"/><circle cx="882.6" cy="442.1" r="9.2"/><circle cx="884.2" cy="441.1" r="9.2"/><circle cx="885.9" cy="432.7" r="9.2"/><circle cx="887.6" cy="431.2" r="9.2"/><circle cx="888.1" cy="430.6" r="9.2"/><circle cx="888.8" cy="442.0" r="9.2"/><circle cx="888.9" cy="440.4" r="9.2"/><circle cx="890.7" cy="439.7" r="9.2"/><circle cx="892.0" cy="437.0" r="9.2"/><circle cx="893.7" cy="437.0" r="9.2"/><circle cx="895.3" cy="441.0" r="9.2"/><circle cx="895.6" cy="433.6" r="9.2"/><circle cx="896.1" cy="441.0" r="9.2"/><circle cx="896.3" cy="445.0" r="9.2"/><circle cx="897.9" cy="439.5" r="9.2"/><circle cx="899.1" cy="436.2" r="9.2"/><circle cx="900.6" cy="437.3" r="9.2"/><circle cx="901.9" cy="436.8" r="9.2"/><circle cx="903.0" cy="431.3" r="9.2"/><circle cx="903.3" cy="440.6" r="9.2"/><circle cx="903.7" cy="445.7" r="9.2"/><circle cx="904.8" cy="436.7" r="9.2"/><circle cx="907.0" cy="441.6" r="9.2"/><circle cx="908.3" cy="434.6" r="9.2"/><circle cx="910.2" cy="433.4" r="9.2"/><circle cx="910.4" cy="431.3" r="9.2"/><circle cx="911.1" cy="442.0" r="9.2"/><circle cx="911.6" cy="437.3" r="9.2"/><circle cx="913.0" cy="435.5" r="9.2"/><circle cx="914.5" cy="429.3" r="9.2"/><circle cx="915.8" cy="443.3" r="9.2"/><circle cx="917.5" cy="430.2" r="9.2"/><circle cx="917.8" cy="427.6" r="9.2"/><circle cx="918.5" cy="452.4" r="9.2"/><circle cx="918.8" cy="435.4" r="9.2"/><circle cx="920.4" cy="437.8" r="9.2"/><circle cx="921.7" cy="439.8" r="9.2"/><circle cx="923.2" cy="442.3" r="9.2"/><circle cx="923.7" cy="425.9" r="9.2"/><circle cx="923.7" cy="454.1" r="9.2"/><circle cx="924.4" cy="426.8" r="9.2"/><circle cx="924.7" cy="434.0" r="9.2"/><circle cx="925.8" cy="445.3" r="9.2"/><circle cx="927.8" cy="432.9" r="9.2"/><circle cx="929.6" cy="444.5" r="9.2"/><circle cx="931.9" cy="441.6" r="9.2"/><circle cx="933.6" cy="444.2" r="9.2"/><circle cx="935.4" cy="435.7" r="9.2"/><circle cx="937.9" cy="441.1" r="9.2"/><circle cx="940.1" cy="429.9" r="9.2"/><circle cx="941.5" cy="428.2" r="9.2"/><circle cx="942.3" cy="441.7" r="9.2"/><circle cx="944.4" cy="442.3" r="9.2"/><circle cx="946.5" cy="430.0" r="9.2"/><circle cx="946.7" cy="463.8" r="9.2"/><circle cx="948.6" cy="448.6" r="9.2"/><circle cx="950.1" cy="434.2" r="9.2"/><circle cx="950.7" cy="451.9" r="9.2"/><circle cx="952.3" cy="406.8" r="9.2"/><circle cx="953.7" cy="444.4" r="9.2"/><circle cx="954.1" cy="429.4" r="9.2"/><circle cx="956.3" cy="419.4" r="9.2"/><circle cx="956.3" cy="434.2" r="9.2"/><circle cx="956.4" cy="417.2" r="9.2"/><circle cx="958.4" cy="431.3" r="9.2"/><circle cx="958.8" cy="398.9" r="9.2"/><circle cx="959.0" cy="398.9" r="9.2"/><circle cx="959.3" cy="402.3" r="9.2"/><circle cx="959.8" cy="402.4" r="9.2"/><circle cx="960.6" cy="399.4" r="9.2"/><circle cx="960.9" cy="423.9" r="9.2"/><circle cx="961.4" cy="402.9" r="9.2"/><circle cx="962.2" cy="399.9" r="9.2"/><circle cx="963.0" cy="403.4" r="9.2"/><circle cx="963.3" cy="431.2" r="9.2"/><circle cx="963.8" cy="400.4" r="9.2"/><circle cx="964.4" cy="422.3" r="9.2"/><circle cx="964.6" cy="403.9" r="9.2"/><circle cx="965.4" cy="400.9" r="9.2"/><circle cx="965.7" cy="452.8" r="9.2"/><circle cx="965.9" cy="435.7" r="9.2"/><circle cx="967.4" cy="439.3" r="9.2"/><circle cx="968.9" cy="475.7" r="9.2"/><circle cx="969.7" cy="437.5" r="9.2"/><circle cx="970.7" cy="456.3" r="9.2"/><circle cx="971.1" cy="417.9" r="9.2"/><circle cx="971.6" cy="452.2" r="9.2"/><circle cx="973.4" cy="413.3" r="9.2"/><circle cx="975.6" cy="423.8" r="9.2"/><circle cx="975.9" cy="444.4" r="9.2"/><circle cx="978.0" cy="438.0" r="9.2"/><circle cx="979.3" cy="401.6" r="9.2"/><circle cx="979.9" cy="433.8" r="9.2"/><circle cx="981.6" cy="433.5" r="9.2"/><circle cx="983.4" cy="415.8" r="9.2"/><circle cx="985.1" cy="421.0" r="9.2"/><circle cx="987.0" cy="420.7" r="9.2"/><circle cx="987.4" cy="405.3" r="9.2"/><circle cx="989.1" cy="405.3" r="9.2"/><circle cx="990.8" cy="424.0" r="9.2"/><circle cx="992.6" cy="420.9" r="9.2"/><circle cx="994.7" cy="409.6" r="9.2"/><circle cx="994.8" cy="407.5" r="9.2"/><circle cx="996.4" cy="421.4" r="9.2"/><circle cx="997.0" cy="429.7" r="9.2"/><circle cx="997.9" cy="423.7" r="9.2"/><circle cx="1000.0" cy="426.8" r="9.2"/><circle cx="1000.7" cy="466.8" r="9.2"/><circle cx="1001.4" cy="440.9" r="9.2"/><circle cx="1003.0" cy="411.3" r="9.2"/><circle cx="1004.4" cy="404.5" r="9.2"/><circle cx="1004.4" cy="435.7" r="9.2"/><circle cx="1005.3" cy="414.4" r="9.2"/><circle cx="1006.3" cy="454.8" r="9.2"/><circle cx="1007.1" cy="434.2" r="9.2"/><circle cx="1007.4" cy="454.9" r="9.2"/><circle cx="1008.9" cy="439.4" r="9.2"/><circle cx="1010.8" cy="411.8" r="9.2"/><circle cx="1012.6" cy="403.8" r="9.2"/><circle cx="1012.6" cy="417.9" r="9.2"/><circle cx="1013.3" cy="405.9" r="9.2"/><circle cx="1014.4" cy="444.4" r="9.2"/><circle cx="1015.6" cy="416.8" r="9.2"/><circle cx="1017.0" cy="419.4" r="9.2"/><circle cx="1017.4" cy="433.3" r="9.2"/><circle cx="1019.3" cy="421.8" r="9.2"/><circle cx="1021.5" cy="432.9" r="9.2"/><circle cx="1023.4" cy="419.2" r="9.2"/><circle cx="1025.2" cy="429.0" r="9.2"/><circle cx="1027.6" cy="417.0" r="9.2"/><circle cx="1027.8" cy="440.0" r="9.2"/><circle cx="1029.5" cy="415.7" r="9.2"/><circle cx="1031.5" cy="434.5" r="9.2"/><circle cx="1033.6" cy="416.7" r="9.2"/><circle cx="1034.1" cy="410.5" r="9.2"/><circle cx="1035.3" cy="423.2" r="9.2"/><circle cx="1036.6" cy="431.9" r="9.2"/><circle cx="1036.7" cy="437.0" r="9.2"/><circle cx="1039.0" cy="431.1" r="9.2"/><circle cx="1041.0" cy="426.0" r="9.2"/><circle cx="1042.7" cy="426.4" r="9.2"/><circle cx="1044.6" cy="425.0" r="9.2"/><circle cx="1046.5" cy="422.8" r="9.2"/><circle cx="1048.9" cy="417.1" r="9.2"/><circle cx="1048.9" cy="447.2" r="9.2"/><circle cx="1050.3" cy="435.7" r="9.2"/><circle cx="1050.4" cy="423.8" r="9.2"/><circle cx="1052.4" cy="431.8" r="9.2"/><circle cx="1053.9" cy="416.7" r="9.2"/><circle cx="1056.2" cy="436.6" r="9.2"/><circle cx="1057.4" cy="440.0" r="9.2"/><circle cx="1057.8" cy="457.1" r="9.2"/><circle cx="1058.0" cy="434.7" r="9.2"/><circle cx="1058.9" cy="448.9" r="9.2"/><circle cx="1059.9" cy="444.0" r="9.2"/><circle cx="1062.1" cy="436.7" r="9.2"/><circle cx="1064.0" cy="431.5" r="9.2"/><circle cx="1065.8" cy="431.4" r="9.2"/><circle cx="1066.7" cy="413.4" r="9.2"/><circle cx="1067.8" cy="427.0" r="9.2"/><circle cx="1068.1" cy="419.4" r="9.2"/><circle cx="1069.5" cy="429.2" r="9.2"/><circle cx="1071.2" cy="432.4" r="9.2"/><circle cx="1072.8" cy="436.6" r="9.2"/><circle cx="1075.0" cy="428.1" r="9.2"/><circle cx="1077.5" cy="443.0" r="9.2"/><circle cx="1078.1" cy="437.1" r="9.2"/><circle cx="1078.1" cy="444.4" r="9.2"/><circle cx="1078.9" cy="433.8" r="9.2"/><circle cx="1079.8" cy="422.3" r="9.2"/><circle cx="1080.0" cy="447.5" r="9.2"/><circle cx="1080.5" cy="437.7" r="9.2"/><circle cx="1081.4" cy="438.0" r="9.2"/><circle cx="1082.2" cy="426.7" r="9.2"/><circle cx="1082.9" cy="431.8" r="9.2"/><circle cx="1084.0" cy="427.2" r="9.2"/><circle cx="1084.7" cy="424.4" r="9.2"/><circle cx="1085.3" cy="426.3" r="9.2"/><circle cx="1086.5" cy="422.2" r="9.2"/><circle cx="1087.1" cy="434.3" r="9.2"/><circle cx="1088.1" cy="432.8" r="9.2"/><circle cx="1088.9" cy="438.1" r="9.2"/><circle cx="1089.9" cy="426.9" r="9.2"/><circle cx="1090.0" cy="440.0" r="9.2"/><circle cx="1090.5" cy="423.5" r="9.2"/><circle cx="1091.1" cy="434.0" r="9.2"/><circle cx="1091.8" cy="433.0" r="9.2"/><circle cx="1092.6" cy="419.4" r="9.2"/><circle cx="1092.6" cy="428.0" r="9.2"/><circle cx="1093.6" cy="424.1" r="9.2"/><circle cx="1094.3" cy="434.9" r="9.2"/><circle cx="1095.2" cy="431.9" r="9.2"/><circle cx="1096.0" cy="429.6" r="9.2"/><circle cx="1096.8" cy="432.9" r="9.2"/><circle cx="1097.5" cy="427.3" r="9.2"/><circle cx="1097.8" cy="422.3" r="9.2"/><circle cx="1098.0" cy="427.6" r="9.2"/><circle cx="1098.9" cy="425.0" r="9.2"/><circle cx="1099.8" cy="439.8" r="9.2"/><circle cx="1100.5" cy="431.4" r="9.2"/><circle cx="1101.2" cy="432.1" r="9.2"/><circle cx="1101.9" cy="440.0" r="9.2"/><circle cx="1102.1" cy="433.9" r="9.2"/><circle cx="1103.0" cy="438.4" r="9.2"/><circle cx="1103.5" cy="425.8" r="9.2"/><circle cx="1104.2" cy="427.3" r="9.2"/><circle cx="1105.3" cy="434.6" r="9.2"/><circle cx="1106.2" cy="433.5" r="9.2"/><circle cx="1107.0" cy="435.4" r="9.2"/><circle cx="1107.5" cy="427.9" r="9.2"/><circle cx="1108.6" cy="439.0" r="9.2"/><circle cx="1109.5" cy="435.3" r="9.2"/><circle cx="1110.1" cy="431.6" r="9.2"/><circle cx="1110.6" cy="440.3" r="9.2"/><circle cx="1111.4" cy="428.0" r="9.2"/><circle cx="1112.5" cy="432.8" r="9.2"/><circle cx="1112.9" cy="429.7" r="9.2"/><circle cx="1114.0" cy="434.6" r="9.2"/><circle cx="1114.1" cy="425.3" r="9.2"/><circle cx="1114.8" cy="444.0" r="9.2"/><circle cx="1115.4" cy="439.9" r="9.2"/><circle cx="1116.4" cy="427.9" r="9.2"/><circle cx="1116.7" cy="439.7" r="9.2"/><circle cx="1118.2" cy="432.5" r="9.2"/><circle cx="1118.5" cy="450.5" r="9.2"/><circle cx="1119.2" cy="439.8" r="9.2"/><circle cx="1120.1" cy="439.1" r="9.2"/><circle cx="1120.8" cy="430.8" r="9.2"/><circle cx="1121.8" cy="430.2" r="9.2"/><circle cx="1122.5" cy="430.8" r="9.2"/><circle cx="1122.6" cy="448.9" r="9.2"/><circle cx="1123.0" cy="450.0" r="9.2"/><circle cx="1123.7" cy="427.1" r="9.2"/><circle cx="1124.3" cy="442.6" r="9.2"/><circle cx="1125.0" cy="439.6" r="9.2"/><circle cx="1125.8" cy="434.4" r="9.2"/><circle cx="1126.8" cy="442.6" r="9.2"/><circle cx="1127.9" cy="441.2" r="9.2"/><circle cx="1128.4" cy="432.6" r="9.2"/><circle cx="1129.1" cy="433.7" r="9.2"/><circle cx="1130.4" cy="428.3" r="9.2"/><circle cx="1130.9" cy="426.9" r="9.2"/><circle cx="1131.8" cy="440.1" r="9.2"/><circle cx="1131.9" cy="447.0" r="9.2"/><circle cx="1132.4" cy="432.0" r="9.2"/><circle cx="1133.3" cy="434.3" r="9.2"/><circle cx="1134.5" cy="439.4" r="9.2"/><circle cx="1134.8" cy="420.4" r="9.2"/><circle cx="1135.3" cy="435.4" r="9.2"/><circle cx="1136.2" cy="437.8" r="9.2"/><circle cx="1137.0" cy="432.5" r="9.2"/><circle cx="1137.7" cy="436.4" r="9.2"/><circle cx="1138.4" cy="432.9" r="9.2"/><circle cx="1139.4" cy="433.9" r="9.2"/><circle cx="1140.4" cy="436.4" r="9.2"/><circle cx="1141.0" cy="432.8" r="9.2"/><circle cx="1141.7" cy="442.5" r="9.2"/><circle cx="1142.6" cy="434.5" r="9.2"/><circle cx="1143.8" cy="425.4" r="9.2"/><circle cx="1144.4" cy="442.6" r="9.2"/><circle cx="1144.6" cy="432.8" r="9.2"/><circle cx="1144.9" cy="429.3" r="9.2"/><circle cx="1146.0" cy="427.5" r="9.2"/><circle cx="1146.8" cy="425.9" r="9.2"/><circle cx="1147.6" cy="434.4" r="9.2"/><circle cx="1148.8" cy="430.2" r="9.2"/><circle cx="1149.8" cy="425.7" r="9.2"/><circle cx="1150.8" cy="427.8" r="9.2"/><circle cx="1151.4" cy="435.8" r="9.2"/><circle cx="1152.3" cy="429.4" r="9.2"/><circle cx="1153.0" cy="425.5" r="9.2"/><circle cx="1153.8" cy="421.0" r="9.2"/><circle cx="1154.8" cy="437.9" r="9.2"/><circle cx="1155.1" cy="429.1" r="9.2"/><circle cx="1156.3" cy="426.3" r="9.2"/><circle cx="1156.9" cy="429.7" r="9.2"/><circle cx="1157.0" cy="438.1" r="9.2"/><circle cx="1157.6" cy="431.3" r="9.2"/><circle cx="1158.7" cy="431.4" r="9.2"/><circle cx="1159.1" cy="420.6" r="9.2"/><circle cx="1160.0" cy="425.5" r="9.2"/><circle cx="1161.4" cy="423.8" r="9.2"/><circle cx="1161.9" cy="428.3" r="9.2"/><circle cx="1162.4" cy="431.4" r="9.2"/><circle cx="1163.9" cy="430.6" r="9.2"/><circle cx="1164.5" cy="423.2" r="9.2"/><circle cx="1165.2" cy="428.2" r="9.2"/><circle cx="1166.2" cy="424.1" r="9.2"/><circle cx="1166.8" cy="427.4" r="9.2"/><circle cx="1167.9" cy="435.5" r="9.2"/><circle cx="1168.8" cy="421.7" r="9.2"/><circle cx="1169.2" cy="430.2" r="9.2"/><circle cx="1170.2" cy="422.9" r="9.2"/><circle cx="1171.1" cy="424.9" r="9.2"/><circle cx="1172.3" cy="420.6" r="9.2"/><circle cx="1173.2" cy="420.8" r="9.2"/><circle cx="1174.2" cy="424.8" r="9.2"/><circle cx="1174.6" cy="433.1" r="9.2"/><circle cx="1175.8" cy="416.3" r="9.2"/><circle cx="1176.3" cy="441.1" r="9.2"/><circle cx="1176.3" cy="412.2" r="9.2"/><circle cx="1176.6" cy="423.5" r="9.2"/><circle cx="1177.9" cy="427.2" r="9.2"/><circle cx="1178.6" cy="426.6" r="9.2"/><circle cx="1179.2" cy="426.3" r="9.2"/><circle cx="1180.0" cy="432.1" r="9.2"/><circle cx="1180.7" cy="429.8" r="9.2"/><circle cx="1181.7" cy="431.3" r="9.2"/><circle cx="1182.7" cy="426.9" r="9.2"/><circle cx="1183.8" cy="420.3" r="9.2"/><circle cx="1184.6" cy="427.1" r="9.2"/><circle cx="1185.3" cy="433.3" r="9.2"/><circle cx="1186.2" cy="429.0" r="9.2"/><circle cx="1187.4" cy="413.7" r="9.2"/><circle cx="1187.7" cy="427.3" r="9.2"/><circle cx="1188.6" cy="424.5" r="9.2"/><circle cx="1189.0" cy="431.2" r="9.2"/><circle cx="1190.3" cy="425.3" r="9.2"/><circle cx="1190.8" cy="424.3" r="9.2"/><circle cx="1191.9" cy="422.0" r="9.2"/><circle cx="1192.3" cy="434.8" r="9.2"/><circle cx="1193.2" cy="423.1" r="9.2"/><circle cx="1194.3" cy="420.9" r="9.2"/><circle cx="1195.2" cy="425.7" r="9.2"/><circle cx="1195.9" cy="419.8" r="9.2"/><circle cx="1196.5" cy="422.3" r="9.2"/><circle cx="1197.3" cy="425.5" r="9.2"/><circle cx="1198.4" cy="432.0" r="9.2"/><circle cx="1199.0" cy="425.1" r="9.2"/><circle cx="1200.0" cy="424.0" r="9.2"/><circle cx="1200.6" cy="439.0" r="9.2"/><circle cx="1201.3" cy="428.7" r="9.2"/><circle cx="1202.2" cy="413.7" r="9.2"/><circle cx="1202.7" cy="422.6" r="9.2"/><circle cx="1203.0" cy="441.1" r="9.2"/><circle cx="1203.0" cy="425.8" r="9.2"/><circle cx="1204.2" cy="419.7" r="9.2"/><circle cx="1205.0" cy="427.0" r="9.2"/><circle cx="1205.8" cy="430.2" r="9.2"/><circle cx="1206.4" cy="419.2" r="9.2"/><circle cx="1207.0" cy="417.1" r="9.2"/><circle cx="1208.2" cy="425.8" r="9.2"/><circle cx="1208.7" cy="433.3" r="9.2"/><circle cx="1209.5" cy="419.9" r="9.2"/><circle cx="1210.9" cy="433.0" r="9.2"/><circle cx="1211.8" cy="418.3" r="9.2"/><circle cx="1211.9" cy="433.7" r="9.2"/><circle cx="1212.3" cy="428.1" r="9.2"/><circle cx="1213.2" cy="422.3" r="9.2"/><circle cx="1213.9" cy="420.8" r="9.2"/><circle cx="1214.8" cy="414.4" r="9.2"/><circle cx="1215.2" cy="415.0" r="9.2"/><circle cx="1216.0" cy="428.3" r="9.2"/><circle cx="1216.8" cy="423.4" r="9.2"/><circle cx="1218.0" cy="422.5" r="9.2"/><circle cx="1218.9" cy="424.6" r="9.2"/><circle cx="1219.8" cy="414.3" r="9.2"/><circle cx="1220.8" cy="426.9" r="9.2"/><circle cx="1221.4" cy="421.0" r="9.2"/><circle cx="1222.2" cy="414.1" r="9.2"/><circle cx="1223.2" cy="425.4" r="9.2"/><circle cx="1223.7" cy="435.2" r="9.2"/><circle cx="1224.3" cy="414.5" r="9.2"/><circle cx="1225.0" cy="422.5" r="9.2"/><circle cx="1225.7" cy="427.2" r="9.2"/><circle cx="1226.6" cy="425.6" r="9.2"/><circle cx="1227.6" cy="413.8" r="9.2"/><circle cx="1228.1" cy="418.6" r="9.2"/><circle cx="1228.1" cy="412.2" r="9.2"/><circle cx="1229.2" cy="427.3" r="9.2"/><circle cx="1230.0" cy="426.3" r="9.2"/><circle cx="1231.2" cy="419.1" r="9.2"/><circle cx="1231.8" cy="434.0" r="9.2"/><circle cx="1232.9" cy="426.0" r="9.2"/><circle cx="1233.2" cy="426.4" r="9.2"/><circle cx="1234.5" cy="419.5" r="9.2"/><circle cx="1235.3" cy="432.5" r="9.2"/><circle cx="1236.1" cy="423.8" r="9.2"/><circle cx="1237.0" cy="404.8" r="9.2"/><circle cx="1237.3" cy="406.4" r="9.2"/><circle cx="1237.7" cy="424.4" r="9.2"/><circle cx="1239.0" cy="405.7" r="9.2"/><circle cx="1239.3" cy="416.3" r="9.2"/><circle cx="1240.7" cy="416.1" r="9.2"/><circle cx="1241.5" cy="417.1" r="9.2"/><circle cx="1242.4" cy="411.2" r="9.2"/><circle cx="1243.0" cy="435.2" r="9.2"/><circle cx="1243.6" cy="410.5" r="9.2"/><circle cx="1244.4" cy="424.7" r="9.2"/><circle cx="1245.1" cy="429.1" r="9.2"/><circle cx="1245.5" cy="420.0" r="9.2"/><circle cx="1246.9" cy="424.4" r="9.2"/><circle cx="1247.3" cy="424.0" r="9.2"/><circle cx="1248.7" cy="416.7" r="9.2"/><circle cx="1248.9" cy="401.1" r="9.2"/><circle cx="1249.3" cy="415.4" r="9.2"/><circle cx="1250.2" cy="419.6" r="9.2"/><circle cx="1251.0" cy="420.3" r="9.2"/><circle cx="1251.9" cy="409.4" r="9.2"/><circle cx="1252.5" cy="412.9" r="9.2"/><circle cx="1253.3" cy="408.4" r="9.2"/><circle cx="1253.3" cy="399.6" r="9.2"/><circle cx="1254.1" cy="403.8" r="9.2"/><circle cx="1255.1" cy="410.6" r="9.2"/><circle cx="1256.0" cy="426.3" r="9.2"/><circle cx="1256.7" cy="420.2" r="9.2"/><circle cx="1257.5" cy="415.0" r="9.2"/><circle cx="1258.6" cy="413.9" r="9.2"/><circle cx="1259.5" cy="415.1" r="9.2"/><circle cx="1259.9" cy="413.8" r="9.2"/><circle cx="1261.1" cy="410.1" r="9.2"/><circle cx="1261.9" cy="407.1" r="9.2"/><circle cx="1262.1" cy="411.2" r="9.2"/><circle cx="1263.6" cy="417.3" r="9.2"/><circle cx="1264.9" cy="417.6" r="9.2"/><circle cx="1265.2" cy="430.7" r="9.2"/><circle cx="1266.4" cy="416.9" r="9.2"/><circle cx="1268.0" cy="414.6" r="9.2"/><circle cx="1269.5" cy="427.3" r="9.2"/><circle cx="1271.3" cy="435.0" r="9.2"/><circle cx="1272.6" cy="435.2" r="9.2"/><circle cx="1273.2" cy="405.8" r="9.2"/><circle cx="1273.3" cy="375.2" r="9.2"/><circle cx="1274.8" cy="423.5" r="9.2"/><circle cx="1276.4" cy="417.2" r="9.2"/><circle cx="1277.0" cy="384.8" r="9.2"/><circle cx="1277.4" cy="417.7" r="9.2"/><circle cx="1279.3" cy="407.4" r="9.2"/><circle cx="1280.8" cy="416.1" r="9.2"/><circle cx="1282.5" cy="414.5" r="9.2"/><circle cx="1283.0" cy="390.5" r="9.2"/><circle cx="1283.9" cy="424.0" r="9.2"/><circle cx="1285.5" cy="407.4" r="9.2"/><circle cx="1287.0" cy="389.0" r="9.2"/><circle cx="1287.2" cy="430.4" r="9.2"/><circle cx="1289.1" cy="426.3" r="9.2"/><circle cx="1290.4" cy="374.4" r="9.2"/><circle cx="1290.5" cy="387.5" r="9.2"/><circle cx="1290.8" cy="427.5" r="9.2"/><circle cx="1291.9" cy="433.7" r="9.2"/><circle cx="1292.4" cy="407.7" r="9.2"/><circle cx="1292.6" cy="365.6" r="9.2"/><circle cx="1293.0" cy="386.0" r="9.2"/><circle cx="1293.8" cy="402.3" r="9.2"/><circle cx="1294.8" cy="371.5" r="9.2"/><circle cx="1295.2" cy="431.8" r="9.2"/><circle cx="1295.6" cy="347.8" r="9.2"/><circle cx="1296.0" cy="386.5" r="9.2"/><circle cx="1296.3" cy="424.8" r="9.2"/><circle cx="1296.9" cy="432.1" r="9.2"/><circle cx="1298.4" cy="413.7" r="9.2"/><circle cx="1298.5" cy="379.6" r="9.2"/><circle cx="1299.3" cy="411.5" r="9.2"/><circle cx="1300.1" cy="399.1" r="9.2"/><circle cx="1301.5" cy="405.0" r="9.2"/><circle cx="1303.8" cy="409.0" r="9.2"/><circle cx="1305.2" cy="366.3" r="9.2"/><circle cx="1307.4" cy="377.4" r="9.2"/><circle cx="1309.6" cy="427.0" r="9.2"/><circle cx="1310.4" cy="386.3" r="9.2"/></g>
<g fill="#999" stroke="#000" stroke-width="3.3"><circle cx="190.7" cy="774.0" r="9.2"/><circle cx="191.7" cy="772.4" r="9.2"/><circle cx="192.2" cy="766.2" r="9.2"/><circle cx="193.0" cy="777.0" r="9.2"/><circle cx="194.0" cy="785.1" r="9.2"/><circle cx="196.0" cy="781.0" r="9.2"/><circle cx="196.0" cy="769.0" r="9.2"/><circle cx="198.7" cy="760.0" r="9.2"/><circle cx="198.9" cy="757.3" r="9.2"/><circle cx="200.0" cy="783.0" r="9.2"/><circle cx="200.9" cy="758.7" r="9.2"/><circle cx="202.0" cy="772.0" r="9.2"/><circle cx="204.0" cy="782.0" r="9.2"/><circle cx="204.3" cy="739.9" r="9.2"/><circle cx="205.0" cy="766.0" r="9.2"/><circle cx="205.1" cy="780.8" r="9.2"/><circle cx="206.3" cy="738.8" r="9.2"/><circle cx="207.9" cy="772.4" r="9.2"/><circle cx="209.4" cy="771.5" r="9.2"/><circle cx="210.0" cy="772.0" r="9.2"/><circle cx="210.7" cy="711.4" r="9.2"/><circle cx="212.6" cy="757.0" r="9.2"/><circle cx="213.0" cy="756.6" r="9.2"/><circle cx="214.4" cy="736.6" r="9.2"/><circle cx="215.9" cy="711.4" r="9.2"/><circle cx="216.2" cy="714.4" r="9.2"/><circle cx="218.9" cy="698.8" r="9.2"/><circle cx="219.6" cy="704.2" r="9.2"/><circle cx="220.4" cy="707.0" r="9.2"/><circle cx="222.0" cy="694.0" r="9.2"/><circle cx="224.0" cy="704.0" r="9.2"/><circle cx="226.0" cy="710.0" r="9.2"/><circle cx="228.0" cy="700.0" r="9.2"/><circle cx="228.1" cy="721.2" r="9.2"/><circle cx="229.3" cy="714.4" r="9.2"/><circle cx="232.0" cy="686.0" r="9.2"/><circle cx="234.0" cy="694.0" r="9.2"/><circle cx="235.0" cy="695.7" r="9.2"/><circle cx="235.2" cy="654.4" r="9.2"/><circle cx="236.7" cy="672.9" r="9.2"/><circle cx="238.0" cy="690.0" r="9.2"/><circle cx="238.4" cy="675.2" r="9.2"/><circle cx="239.6" cy="680.3" r="9.2"/><circle cx="241.1" cy="704.0" r="9.2"/><circle cx="242.6" cy="661.8" r="9.2"/><circle cx="243.0" cy="676.0" r="9.2"/><circle cx="244.8" cy="707.0" r="9.2"/><circle cx="245.2" cy="673.5" r="9.2"/><circle cx="245.6" cy="686.2" r="9.2"/><circle cx="247.0" cy="669.0" r="9.2"/><circle cx="250.0" cy="674.4" r="9.2"/><circle cx="252.0" cy="667.0" r="9.2"/><circle cx="252.0" cy="663.3" r="9.2"/><circle cx="255.9" cy="664.0" r="9.2"/><circle cx="257.0" cy="673.0" r="9.2"/><circle cx="258.8" cy="658.2" r="9.2"/><circle cx="261.1" cy="689.2" r="9.2"/><circle cx="262.0" cy="656.0" r="9.2"/><circle cx="264.7" cy="661.2" r="9.2"/><circle cx="266.3" cy="659.7" r="9.2"/><circle cx="267.2" cy="663.6" r="9.2"/><circle cx="267.8" cy="647.7" r="9.2"/><circle cx="268.5" cy="661.8" r="9.2"/><circle cx="269.4" cy="663.8" r="9.2"/><circle cx="271.2" cy="657.0" r="9.2"/><circle cx="271.8" cy="663.4" r="9.2"/><circle cx="272.0" cy="654.0" r="9.2"/><circle cx="273.3" cy="658.6" r="9.2"/><circle cx="274.6" cy="661.1" r="9.2"/><circle cx="275.5" cy="668.0" r="9.2"/><circle cx="276.0" cy="660.0" r="9.2"/><circle cx="277.3" cy="670.4" r="9.2"/><circle cx="278.2" cy="657.3" r="9.2"/><circle cx="279.7" cy="665.9" r="9.2"/><circle cx="280.8" cy="665.1" r="9.2"/><circle cx="281.9" cy="670.5" r="9.2"/><circle cx="283.6" cy="658.4" r="9.2"/><circle cx="284.7" cy="653.6" r="9.2"/><circle cx="285.6" cy="673.7" r="9.2"/><circle cx="287.1" cy="674.5" r="9.2"/><circle cx="287.8" cy="643.3" r="9.2"/><circle cx="287.9" cy="650.2" r="9.2"/><circle cx="288.7" cy="653.2" r="9.2"/><circle cx="290.5" cy="645.3" r="9.2"/><circle cx="291.8" cy="668.2" r="9.2"/><circle cx="292.9" cy="664.6" r="9.2"/><circle cx="293.0" cy="642.5" r="9.2"/><circle cx="293.0" cy="675.1" r="9.2"/><circle cx="294.1" cy="644.9" r="9.2"/><circle cx="295.0" cy="662.2" r="9.2"/><circle cx="296.7" cy="649.8" r="9.2"/><circle cx="297.6" cy="660.4" r="9.2"/><circle cx="298.7" cy="671.9" r="9.2"/><circle cx="299.9" cy="652.9" r="9.2"/><circle cx="300.8" cy="645.5" r="9.2"/><circle cx="302.4" cy="650.6" r="9.2"/><circle cx="303.6" cy="648.7" r="9.2"/><circle cx="305.1" cy="666.5" r="9.2"/><circle cx="305.6" cy="672.1" r="9.2"/><circle cx="306.2" cy="653.0" r="9.2"/><circle cx="306.9" cy="655.3" r="9.2"/><circle cx="308.0" cy="663.8" r="9.2"/><circle cx="309.2" cy="657.6" r="9.2"/><circle cx="310.1" cy="649.9" r="9.2"/><circle cx="311.0" cy="662.5" r="9.2"/><circle cx="312.1" cy="668.5" r="9.2"/><circle cx="313.5" cy="660.8" r="9.2"/><circle cx="314.5" cy="666.3" r="9.2"/><circle cx="315.8" cy="657.6" r="9.2"/><circle cx="316.8" cy="662.9" r="9.2"/><circle cx="317.9" cy="664.5" r="9.2"/><circle cx="318.1" cy="650.7" r="9.2"/><circle cx="319.4" cy="664.2" r="9.2"/><circle cx="320.8" cy="656.6" r="9.2"/><circle cx="321.6" cy="656.9" r="9.2"/><circle cx="322.6" cy="669.9" r="9.2"/><circle cx="323.1" cy="668.9" r="9.2"/><circle cx="324.0" cy="669.2" r="9.2"/><circle cx="325.4" cy="656.4" r="9.2"/><circle cx="326.8" cy="659.4" r="9.2"/><circle cx="327.6" cy="668.0" r="9.2"/><circle cx="328.7" cy="667.1" r="9.2"/><circle cx="330.2" cy="655.9" r="9.2"/><circle cx="330.8" cy="661.6" r="9.2"/><circle cx="332.3" cy="663.2" r="9.2"/><circle cx="332.9" cy="660.4" r="9.2"/><circle cx="334.0" cy="658.0" r="9.2"/><circle cx="334.4" cy="655.9" r="9.2"/><circle cx="335.7" cy="661.4" r="9.2"/><circle cx="336.3" cy="668.9" r="9.2"/><circle cx="337.8" cy="664.4" r="9.2"/><circle cx="339.1" cy="664.1" r="9.2"/><circle cx="340.0" cy="664.3" r="9.2"/><circle cx="341.2" cy="658.8" r="9.2"/><circle cx="342.5" cy="666.4" r="9.2"/><circle cx="343.3" cy="671.4" r="9.2"/><circle cx="343.5" cy="668.8" r="9.2"/><circle cx="344.1" cy="663.6" r="9.2"/><circle cx="345.2" cy="668.7" r="9.2"/><circle cx="346.5" cy="657.4" r="9.2"/><circle cx="347.8" cy="656.6" r="9.2"/><circle cx="347.9" cy="658.1" r="9.2"/><circle cx="349.3" cy="661.4" r="9.2"/><circle cx="350.3" cy="664.6" r="9.2"/><circle cx="351.7" cy="659.9" r="9.2"/><circle cx="352.5" cy="666.4" r="9.2"/><circle cx="354.3" cy="674.1" r="9.2"/><circle cx="355.7" cy="666.2" r="9.2"/><circle cx="356.9" cy="658.5" r="9.2"/><circle cx="357.9" cy="655.5" r="9.2"/><circle cx="359.5" cy="671.4" r="9.2"/><circle cx="360.3" cy="660.6" r="9.2"/><circle cx="361.8" cy="659.7" r="9.2"/><circle cx="362.6" cy="654.4" r="9.2"/><circle cx="363.2" cy="669.7" r="9.2"/><circle cx="364.7" cy="674.1" r="9.2"/><circle cx="365.7" cy="655.7" r="9.2"/><circle cx="365.9" cy="653.6" r="9.2"/><circle cx="366.8" cy="663.2" r="9.2"/><circle cx="367.0" cy="664.0" r="9.2"/><circle cx="367.9" cy="664.3" r="9.2"/><circle cx="368.9" cy="661.8" r="9.2"/><circle cx="369.3" cy="661.9" r="9.2"/><circle cx="370.3" cy="676.6" r="9.2"/><circle cx="371.9" cy="675.4" r="9.2"/><circle cx="373.9" cy="678.4" r="9.2"/><circle cx="374.8" cy="670.2" r="9.2"/><circle cx="375.5" cy="684.5" r="9.2"/><circle cx="376.3" cy="670.5" r="9.2"/><circle cx="378.0" cy="682.9" r="9.2"/><circle cx="380.1" cy="670.7" r="9.2"/><circle cx="380.7" cy="667.7" r="9.2"/><circle cx="381.7" cy="683.0" r="9.2"/><circle cx="382.2" cy="670.2" r="9.2"/><circle cx="382.9" cy="693.4" r="9.2"/><circle cx="383.3" cy="689.3" r="9.2"/><circle cx="385.0" cy="673.3" r="9.2"/><circle cx="385.9" cy="690.4" r="9.2"/><circle cx="386.7" cy="687.2" r="9.2"/><circle cx="387.5" cy="679.7" r="9.2"/><circle cx="388.6" cy="684.3" r="9.2"/><circle cx="389.6" cy="692.8" r="9.2"/><circle cx="389.6" cy="677.6" r="9.2"/><circle cx="390.3" cy="696.4" r="9.2"/><circle cx="390.6" cy="687.1" r="9.2"/><circle cx="391.1" cy="698.8" r="9.2"/><circle cx="391.7" cy="695.1" r="9.2"/><circle cx="392.6" cy="681.9" r="9.2"/><circle cx="393.8" cy="690.8" r="9.2"/><circle cx="394.4" cy="684.8" r="9.2"/><circle cx="395.2" cy="682.2" r="9.2"/><circle cx="396.1" cy="690.5" r="9.2"/><circle cx="397.0" cy="690.6" r="9.2"/><circle cx="397.0" cy="682.0" r="9.2"/><circle cx="397.7" cy="693.4" r="9.2"/><circle cx="398.0" cy="684.1" r="9.2"/><circle cx="398.8" cy="686.8" r="9.2"/><circle cx="399.6" cy="686.3" r="9.2"/><circle cx="400.7" cy="689.5" r="9.2"/><circle cx="401.3" cy="687.5" r="9.2"/><circle cx="402.7" cy="687.5" r="9.2"/><circle cx="403.6" cy="693.0" r="9.2"/><circle cx="403.9" cy="688.7" r="9.2"/><circle cx="404.4" cy="684.2" r="9.2"/><circle cx="405.1" cy="694.1" r="9.2"/><circle cx="405.5" cy="686.8" r="9.2"/><circle cx="406.0" cy="689.7" r="9.2"/><circle cx="407.3" cy="690.9" r="9.2"/><circle cx="407.7" cy="686.5" r="9.2"/><circle cx="408.7" cy="692.3" r="9.2"/><circle cx="409.4" cy="693.2" r="9.2"/><circle cx="410.0" cy="692.3" r="9.2"/><circle cx="411.3" cy="692.0" r="9.2"/><circle cx="411.9" cy="687.2" r="9.2"/><circle cx="412.4" cy="695.2" r="9.2"/><circle cx="412.6" cy="695.6" r="9.2"/><circle cx="412.7" cy="690.1" r="9.2"/><circle cx="413.8" cy="691.3" r="9.2"/><circle cx="414.6" cy="688.8" r="9.2"/><circle cx="415.3" cy="692.1" r="9.2"/><circle cx="416.5" cy="690.5" r="9.2"/><circle cx="417.6" cy="689.2" r="9.2"/><circle cx="418.2" cy="694.8" r="9.2"/><circle cx="419.2" cy="695.1" r="9.2"/><circle cx="419.3" cy="689.4" r="9.2"/><circle cx="420.0" cy="696.4" r="9.2"/><circle cx="420.2" cy="692.2" r="9.2"/><circle cx="421.0" cy="696.5" r="9.2"/><circle cx="421.6" cy="693.3" r="9.2"/><circle cx="422.5" cy="695.4" r="9.2"/><circle cx="424.1" cy="692.7" r="9.2"/><circle cx="424.5" cy="691.7" r="9.2"/><circle cx="425.3" cy="690.6" r="9.2"/><circle cx="426.4" cy="694.8" r="9.2"/><circle cx="426.7" cy="690.2" r="9.2"/><circle cx="426.9" cy="690.4" r="9.2"/><circle cx="427.4" cy="698.6" r="9.2"/><circle cx="428.3" cy="691.5" r="9.2"/><circle cx="429.4" cy="696.1" r="9.2"/><circle cx="429.9" cy="697.3" r="9.2"/><circle cx="430.6" cy="694.6" r="9.2"/><circle cx="431.6" cy="700.2" r="9.2"/><circle cx="432.1" cy="699.3" r="9.2"/><circle cx="433.5" cy="697.3" r="9.2"/><circle cx="434.1" cy="690.9" r="9.2"/><circle cx="434.3" cy="701.8" r="9.2"/><circle cx="434.8" cy="702.3" r="9.2"/><circle cx="434.9" cy="692.4" r="9.2"/><circle cx="436.0" cy="697.4" r="9.2"/><circle cx="436.7" cy="699.1" r="9.2"/><circle cx="437.7" cy="701.5" r="9.2"/><circle cx="438.7" cy="698.7" r="9.2"/><circle cx="439.4" cy="695.0" r="9.2"/><circle cx="440.6" cy="695.6" r="9.2"/><circle cx="441.3" cy="700.4" r="9.2"/><circle cx="441.5" cy="691.6" r="9.2"/><circle cx="442.2" cy="706.0" r="9.2"/><circle cx="442.2" cy="693.6" r="9.2"/><circle cx="442.2" cy="694.8" r="9.2"/><circle cx="443.1" cy="697.4" r="9.2"/><circle cx="444.0" cy="704.9" r="9.2"/><circle cx="445.5" cy="703.6" r="9.2"/><circle cx="446.1" cy="697.3" r="9.2"/><circle cx="447.0" cy="704.2" r="9.2"/><circle cx="448.2" cy="705.5" r="9.2"/><circle cx="448.7" cy="704.4" r="9.2"/><circle cx="448.9" cy="696.8" r="9.2"/><circle cx="449.6" cy="706.0" r="9.2"/><circle cx="449.9" cy="696.6" r="9.2"/><circle cx="450.3" cy="701.9" r="9.2"/><circle cx="451.5" cy="696.6" r="9.2"/><circle cx="452.1" cy="698.8" r="9.2"/><circle cx="453.2" cy="699.2" r="9.2"/><circle cx="454.3" cy="699.3" r="9.2"/><circle cx="455.1" cy="695.6" r="9.2"/><circle cx="455.7" cy="702.0" r="9.2"/><circle cx="456.3" cy="693.9" r="9.2"/><circle cx="456.8" cy="696.8" r="9.2"/><circle cx="457.0" cy="702.3" r="9.2"/><circle cx="457.3" cy="700.9" r="9.2"/><circle cx="458.2" cy="694.3" r="9.2"/><circle cx="459.0" cy="697.2" r="9.2"/><circle cx="459.9" cy="699.4" r="9.2"/><circle cx="460.6" cy="693.6" r="9.2"/><circle cx="461.5" cy="701.9" r="9.2"/><circle cx="462.2" cy="693.9" r="9.2"/><circle cx="462.6" cy="693.4" r="9.2"/><circle cx="463.4" cy="696.4" r="9.2"/><circle cx="463.7" cy="693.1" r="9.2"/><circle cx="464.1" cy="697.4" r="9.2"/><circle cx="464.4" cy="703.0" r="9.2"/><circle cx="465.5" cy="703.0" r="9.2"/><circle cx="466.3" cy="694.4" r="9.2"/><circle cx="467.1" cy="700.0" r="9.2"/><circle cx="468.0" cy="700.2" r="9.2"/><circle cx="468.6" cy="696.0" r="9.2"/><circle cx="469.6" cy="704.8" r="9.2"/><circle cx="470.2" cy="699.3" r="9.2"/><circle cx="471.1" cy="696.8" r="9.2"/><circle cx="471.3" cy="700.7" r="9.2"/><circle cx="471.8" cy="706.0" r="9.2"/><circle cx="471.8" cy="700.1" r="9.2"/><circle cx="473.2" cy="702.0" r="9.2"/><circle cx="473.9" cy="698.3" r="9.2"/><circle cx="474.8" cy="705.6" r="9.2"/><circle cx="476.0" cy="706.2" r="9.2"/><circle cx="476.7" cy="705.5" r="9.2"/><circle cx="477.6" cy="707.7" r="9.2"/><circle cx="478.5" cy="698.3" r="9.2"/><circle cx="478.7" cy="706.6" r="9.2"/><circle cx="479.2" cy="709.7" r="9.2"/><circle cx="479.4" cy="706.1" r="9.2"/><circle cx="480.6" cy="701.8" r="9.2"/><circle cx="481.2" cy="698.9" r="9.2"/><circle cx="482.3" cy="706.1" r="9.2"/><circle cx="483.4" cy="709.8" r="9.2"/><circle cx="484.3" cy="699.0" r="9.2"/><circle cx="484.9" cy="699.6" r="9.2"/><circle cx="485.9" cy="696.8" r="9.2"/><circle cx="486.2" cy="710.2" r="9.2"/><circle cx="486.6" cy="710.4" r="9.2"/><circle cx="486.8" cy="708.2" r="9.2"/><circle cx="488.0" cy="707.0" r="9.2"/><circle cx="488.6" cy="707.5" r="9.2"/><circle cx="489.5" cy="703.2" r="9.2"/><circle cx="490.8" cy="704.7" r="9.2"/><circle cx="492.0" cy="703.9" r="9.2"/><circle cx="492.6" cy="696.5" r="9.2"/><circle cx="493.3" cy="694.6" r="9.2"/><circle cx="493.6" cy="702.0" r="9.2"/><circle cx="494.0" cy="706.7" r="9.2"/><circle cx="494.2" cy="696.0" r="9.2"/><circle cx="495.4" cy="698.2" r="9.2"/><circle cx="496.6" cy="698.0" r="9.2"/><circle cx="497.3" cy="698.5" r="9.2"/><circle cx="498.3" cy="695.0" r="9.2"/><circle cx="499.4" cy="694.8" r="9.2"/><circle cx="500.1" cy="696.6" r="9.2"/><circle cx="500.7" cy="693.1" r="9.2"/><circle cx="501.3" cy="699.1" r="9.2"/><circle cx="501.4" cy="705.3" r="9.2"/><circle cx="502.1" cy="701.7" r="9.2"/><circle cx="502.2" cy="706.2" r="9.2"/><circle cx="503.3" cy="702.1" r="9.2"/><circle cx="504.2" cy="701.6" r="9.2"/><circle cx="505.0" cy="696.4" r="9.2"/><circle cx="505.7" cy="692.8" r="9.2"/><circle cx="506.8" cy="702.8" r="9.2"/><circle cx="507.7" cy="692.1" r="9.2"/><circle cx="508.1" cy="691.6" r="9.2"/><circle cx="508.6" cy="697.2" r="9.2"/><circle cx="508.8" cy="702.3" r="9.2"/><circle cx="509.4" cy="695.1" r="9.2"/><circle cx="510.6" cy="695.2" r="9.2"/><circle cx="511.1" cy="697.5" r="9.2"/><circle cx="512.2" cy="693.7" r="9.2"/><circle cx="513.6" cy="700.1" r="9.2"/><circle cx="514.1" cy="700.3" r="9.2"/><circle cx="515.1" cy="700.1" r="9.2"/><circle cx="515.6" cy="693.1" r="9.2"/><circle cx="515.8" cy="696.0" r="9.2"/><circle cx="516.3" cy="700.8" r="9.2"/><circle cx="517.2" cy="698.7" r="9.2"/><circle cx="518.1" cy="700.5" r="9.2"/><circle cx="518.9" cy="700.0" r="9.2"/><circle cx="520.3" cy="697.2" r="9.2"/><circle cx="520.7" cy="698.5" r="9.2"/><circle cx="521.5" cy="696.9" r="9.2"/><circle cx="522.4" cy="697.0" r="9.2"/><circle cx="523.0" cy="696.1" r="9.2"/><circle cx="523.3" cy="699.4" r="9.2"/><circle cx="523.7" cy="700.1" r="9.2"/><circle cx="524.1" cy="699.6" r="9.2"/><circle cx="525.2" cy="696.3" r="9.2"/><circle cx="526.4" cy="698.8" r="9.2"/><circle cx="526.7" cy="698.2" r="9.2"/><circle cx="528.0" cy="698.6" r="9.2"/><circle cx="528.5" cy="697.1" r="9.2"/><circle cx="529.6" cy="697.7" r="9.2"/><circle cx="530.4" cy="695.3" r="9.2"/><circle cx="530.4" cy="697.6" r="9.2"/><circle cx="531.1" cy="697.8" r="9.2"/><circle cx="531.3" cy="695.7" r="9.2"/><circle cx="532.4" cy="697.3" r="9.2"/><circle cx="533.4" cy="696.4" r="9.2"/><circle cx="534.3" cy="696.5" r="9.2"/><circle cx="535.3" cy="696.5" r="9.2"/><circle cx="535.9" cy="695.2" r="9.2"/><circle cx="536.7" cy="694.7" r="9.2"/><circle cx="537.8" cy="693.9" r="9.2"/><circle cx="538.0" cy="694.7" r="9.2"/><circle cx="538.5" cy="697.1" r="9.2"/><circle cx="538.6" cy="695.2" r="9.2"/><circle cx="539.2" cy="693.7" r="9.2"/><circle cx="540.0" cy="695.7" r="9.2"/><circle cx="540.8" cy="694.6" r="9.2"/><circle cx="542.0" cy="695.2" r="9.2"/><circle cx="542.7" cy="693.7" r="9.2"/><circle cx="543.8" cy="693.3" r="9.2"/><circle cx="544.3" cy="697.2" r="9.2"/><circle cx="545.2" cy="693.1" r="9.2"/><circle cx="545.4" cy="693.6" r="9.2"/><circle cx="545.9" cy="697.8" r="9.2"/><circle cx="546.6" cy="697.8" r="9.2"/><circle cx="547.6" cy="693.8" r="9.2"/><circle cx="548.5" cy="698.1" r="9.2"/><circle cx="549.3" cy="697.2" r="9.2"/><circle cx="549.6" cy="698.6" r="9.2"/><circle cx="550.0" cy="694.6" r="9.2"/><circle cx="550.7" cy="699.3" r="9.2"/><circle cx="550.8" cy="696.1" r="9.2"/><circle cx="551.6" cy="697.1" r="9.2"/><circle cx="552.8" cy="700.4" r="9.2"/><circle cx="553.1" cy="695.6" r="9.2"/><circle cx="553.9" cy="700.8" r="9.2"/><circle cx="555.2" cy="695.6" r="9.2"/><circle cx="556.1" cy="701.1" r="9.2"/><circle cx="556.6" cy="696.6" r="9.2"/><circle cx="557.4" cy="696.1" r="9.2"/><circle cx="557.7" cy="704.5" r="9.2"/><circle cx="558.1" cy="705.3" r="9.2"/><circle cx="558.8" cy="701.0" r="9.2"/><circle cx="559.6" cy="698.5" r="9.2"/><circle cx="560.1" cy="701.8" r="9.2"/><circle cx="561.2" cy="705.6" r="9.2"/><circle cx="562.1" cy="704.9" r="9.2"/><circle cx="562.5" cy="707.2" r="9.2"/><circle cx="563.6" cy="706.7" r="9.2"/><circle cx="564.3" cy="703.0" r="9.2"/><circle cx="564.8" cy="701.3" r="9.2"/><circle cx="565.5" cy="708.2" r="9.2"/><circle cx="565.8" cy="706.4" r="9.2"/><circle cx="566.3" cy="703.5" r="9.2"/><circle cx="567.1" cy="707.6" r="9.2"/><circle cx="568.1" cy="704.4" r="9.2"/><circle cx="568.9" cy="706.7" r="9.2"/><circle cx="570.0" cy="709.0" r="9.2"/><circle cx="570.8" cy="704.5" r="9.2"/><circle cx="571.7" cy="709.2" r="9.2"/><circle cx="572.2" cy="702.7" r="9.2"/><circle cx="572.9" cy="705.9" r="9.2"/><circle cx="572.9" cy="711.2" r="9.2"/><circle cx="573.7" cy="703.0" r="9.2"/><circle cx="574.5" cy="707.7" r="9.2"/><circle cx="575.7" cy="704.8" r="9.2"/><circle cx="576.4" cy="706.1" r="9.2"/><circle cx="577.5" cy="708.0" r="9.2"/><circle cx="578.0" cy="714.6" r="9.2"/><circle cx="579.5" cy="715.0" r="9.2"/><circle cx="579.6" cy="702.7" r="9.2"/><circle cx="580.3" cy="716.4" r="9.2"/><circle cx="580.3" cy="714.6" r="9.2"/><circle cx="580.9" cy="709.8" r="9.2"/><circle cx="582.0" cy="711.0" r="9.2"/><circle cx="583.0" cy="703.0" r="9.2"/><circle cx="583.5" cy="704.6" r="9.2"/><circle cx="584.5" cy="714.7" r="9.2"/><circle cx="584.8" cy="717.3" r="9.2"/><circle cx="585.4" cy="714.5" r="9.2"/><circle cx="586.2" cy="715.6" r="9.2"/><circle cx="587.0" cy="702.7" r="9.2"/><circle cx="587.2" cy="703.5" r="9.2"/><circle cx="587.7" cy="715.8" r="9.2"/><circle cx="587.7" cy="717.1" r="9.2"/><circle cx="588.8" cy="708.1" r="9.2"/><circle cx="589.4" cy="713.0" r="9.2"/><circle cx="590.5" cy="705.6" r="9.2"/><circle cx="591.6" cy="703.7" r="9.2"/><circle cx="592.4" cy="708.7" r="9.2"/><circle cx="593.5" cy="701.5" r="9.2"/><circle cx="594.4" cy="699.8" r="9.2"/><circle cx="594.6" cy="700.7" r="9.2"/><circle cx="595.1" cy="712.7" r="9.2"/><circle cx="595.5" cy="710.0" r="9.2"/><circle cx="596.1" cy="711.5" r="9.2"/><circle cx="597.0" cy="712.3" r="9.2"/><circle cx="598.0" cy="712.3" r="9.2"/><circle cx="599.0" cy="711.2" r="9.2"/><circle cx="600.1" cy="708.7" r="9.2"/><circle cx="600.4" cy="713.6" r="9.2"/><circle cx="600.7" cy="707.7" r="9.2"/><circle cx="601.9" cy="698.3" r="9.2"/><circle cx="602.0" cy="702.3" r="9.2"/><circle cx="602.6" cy="712.7" r="9.2"/><circle cx="603.0" cy="711.0" r="9.2"/><circle cx="603.8" cy="704.3" r="9.2"/><circle cx="604.8" cy="699.9" r="9.2"/><circle cx="605.2" cy="708.1" r="9.2"/><circle cx="606.3" cy="699.1" r="9.2"/><circle cx="607.1" cy="699.5" r="9.2"/><circle cx="608.4" cy="701.1" r="9.2"/><circle cx="608.6" cy="698.2" r="9.2"/><circle cx="609.3" cy="696.8" r="9.2"/><circle cx="610.0" cy="703.8" r="9.2"/><circle cx="610.1" cy="701.9" r="9.2"/><circle cx="610.8" cy="699.0" r="9.2"/><circle cx="611.4" cy="700.7" r="9.2"/><circle cx="612.7" cy="699.0" r="9.2"/><circle cx="613.3" cy="697.2" r="9.2"/><circle cx="614.1" cy="697.1" r="9.2"/><circle cx="615.4" cy="693.8" r="9.2"/><circle cx="616.0" cy="697.7" r="9.2"/><circle cx="616.7" cy="690.9" r="9.2"/><circle cx="617.1" cy="697.4" r="9.2"/><circle cx="617.4" cy="700.8" r="9.2"/><circle cx="618.0" cy="690.2" r="9.2"/><circle cx="618.9" cy="697.7" r="9.2"/><circle cx="619.8" cy="699.6" r="9.2"/><circle cx="620.8" cy="699.2" r="9.2"/><circle cx="621.6" cy="686.8" r="9.2"/><circle cx="622.3" cy="685.4" r="9.2"/><circle cx="623.7" cy="693.7" r="9.2"/><circle cx="624.1" cy="683.5" r="9.2"/><circle cx="624.5" cy="686.3" r="9.2"/><circle cx="624.8" cy="699.3" r="9.2"/><circle cx="625.0" cy="697.2" r="9.2"/><circle cx="626.4" cy="683.2" r="9.2"/><circle cx="627.2" cy="697.0" r="9.2"/><circle cx="627.7" cy="691.6" r="9.2"/><circle cx="628.7" cy="683.9" r="9.2"/><circle cx="629.5" cy="692.5" r="9.2"/><circle cx="630.6" cy="686.9" r="9.2"/><circle cx="631.3" cy="698.9" r="9.2"/><circle cx="631.5" cy="679.8" r="9.2"/><circle cx="632.2" cy="699.3" r="9.2"/><circle cx="632.4" cy="683.0" r="9.2"/><circle cx="633.3" cy="682.8" r="9.2"/><circle cx="633.8" cy="690.4" r="9.2"/><circle cx="634.8" cy="687.0" r="9.2"/><circle cx="635.2" cy="695.3" r="9.2"/><circle cx="636.3" cy="687.9" r="9.2"/><circle cx="637.3" cy="685.4" r="9.2"/><circle cx="637.9" cy="691.2" r="9.2"/><circle cx="638.9" cy="681.3" r="9.2"/><circle cx="639.3" cy="690.4" r="9.2"/><circle cx="639.6" cy="696.4" r="9.2"/><circle cx="640.1" cy="689.8" r="9.2"/><circle cx="641.4" cy="694.9" r="9.2"/><circle cx="641.8" cy="685.3" r="9.2"/><circle cx="642.8" cy="695.1" r="9.2"/><circle cx="643.8" cy="689.9" r="9.2"/><circle cx="644.8" cy="687.9" r="9.2"/><circle cx="646.1" cy="692.4" r="9.2"/><circle cx="646.3" cy="684.2" r="9.2"/><circle cx="646.5" cy="685.8" r="9.2"/><circle cx="647.0" cy="694.9" r="9.2"/><circle cx="647.3" cy="692.4" r="9.2"/><circle cx="648.4" cy="694.1" r="9.2"/><circle cx="649.5" cy="693.7" r="9.2"/><circle cx="650.2" cy="692.9" r="9.2"/><circle cx="650.6" cy="687.8" r="9.2"/><circle cx="651.5" cy="692.3" r="9.2"/><circle cx="652.7" cy="687.7" r="9.2"/><circle cx="653.4" cy="687.1" r="9.2"/><circle cx="653.7" cy="683.5" r="9.2"/><circle cx="654.4" cy="694.9" r="9.2"/><circle cx="654.6" cy="692.6" r="9.2"/><circle cx="655.0" cy="685.2" r="9.2"/><circle cx="656.4" cy="693.7" r="9.2"/><circle cx="656.7" cy="685.3" r="9.2"/><circle cx="657.8" cy="689.2" r="9.2"/><circle cx="659.1" cy="686.6" r="9.2"/><circle cx="659.5" cy="691.0" r="9.2"/><circle cx="660.9" cy="688.8" r="9.2"/><circle cx="661.1" cy="686.5" r="9.2"/><circle cx="661.7" cy="693.6" r="9.2"/><circle cx="661.8" cy="696.4" r="9.2"/><circle cx="662.5" cy="686.9" r="9.2"/><circle cx="663.5" cy="694.7" r="9.2"/><circle cx="664.2" cy="687.1" r="9.2"/><circle cx="665.8" cy="687.4" r="9.2"/><circle cx="666.4" cy="690.8" r="9.2"/><circle cx="666.9" cy="688.4" r="9.2"/><circle cx="668.1" cy="689.6" r="9.2"/><circle cx="668.5" cy="684.2" r="9.2"/><circle cx="668.6" cy="690.4" r="9.2"/><circle cx="669.2" cy="698.6" r="9.2"/><circle cx="669.3" cy="687.0" r="9.2"/><circle cx="670.5" cy="698.1" r="9.2"/><circle cx="671.4" cy="687.8" r="9.2"/><circle cx="672.1" cy="692.4" r="9.2"/><circle cx="672.7" cy="690.6" r="9.2"/><circle cx="673.4" cy="689.6" r="9.2"/><circle cx="674.3" cy="693.1" r="9.2"/><circle cx="675.4" cy="693.3" r="9.2"/><circle cx="675.9" cy="682.0" r="9.2"/><circle cx="676.2" cy="690.3" r="9.2"/><circle cx="676.6" cy="697.8" r="9.2"/><circle cx="676.8" cy="689.2" r="9.2"/><circle cx="677.8" cy="690.9" r="9.2"/><circle cx="678.6" cy="688.8" r="9.2"/><circle cx="679.6" cy="693.0" r="9.2"/><circle cx="680.6" cy="686.7" r="9.2"/><circle cx="681.2" cy="684.6" r="9.2"/><circle cx="682.0" cy="687.7" r="9.2"/><circle cx="683.1" cy="695.6" r="9.2"/><circle cx="683.3" cy="684.2" r="9.2"/><circle cx="683.8" cy="694.9" r="9.2"/><circle cx="684.0" cy="696.4" r="9.2"/><circle cx="684.2" cy="689.7" r="9.2"/><circle cx="685.3" cy="694.4" r="9.2"/><circle cx="686.3" cy="689.0" r="9.2"/><circle cx="687.4" cy="687.3" r="9.2"/><circle cx="688.1" cy="691.6" r="9.2"/><circle cx="688.9" cy="691.1" r="9.2"/><circle cx="690.0" cy="686.6" r="9.2"/><circle cx="690.7" cy="688.9" r="9.2"/><circle cx="690.7" cy="686.5" r="9.2"/><circle cx="691.4" cy="690.4" r="9.2"/><circle cx="691.7" cy="689.2" r="9.2"/><circle cx="692.8" cy="690.0" r="9.2"/><circle cx="693.7" cy="686.4" r="9.2"/><circle cx="694.6" cy="686.7" r="9.2"/><circle cx="695.2" cy="687.2" r="9.2"/><circle cx="695.9" cy="683.5" r="9.2"/><circle cx="696.5" cy="688.9" r="9.2"/><circle cx="696.6" cy="690.4" r="9.2"/><circle cx="696.9" cy="684.3" r="9.2"/><circle cx="698.4" cy="686.6" r="9.2"/><circle cx="699.2" cy="684.3" r="9.2"/><circle cx="704.1" cy="686.2" r="9.2"/><circle cx="704.5" cy="672.9" r="9.2"/><circle cx="705.6" cy="662.5" r="9.2"/><circle cx="706.3" cy="685.8" r="9.2"/><circle cx="707.0" cy="650.7" r="9.2"/><circle cx="708.8" cy="692.2" r="9.2"/><circle cx="710.0" cy="669.9" r="9.2"/><circle cx="711.2" cy="663.7" r="9.2"/><circle cx="713.0" cy="653.1" r="9.2"/><circle cx="713.0" cy="702.5" r="9.2"/><circle cx="713.7" cy="702.3" r="9.2"/><circle cx="713.7" cy="681.3" r="9.2"/><circle cx="716.2" cy="692.9" r="9.2"/><circle cx="717.4" cy="683.3" r="9.2"/><circle cx="719.6" cy="658.1" r="9.2"/><circle cx="720.4" cy="654.6" r="9.2"/><circle cx="721.1" cy="700.8" r="9.2"/><circle cx="721.5" cy="692.3" r="9.2"/><circle cx="721.9" cy="654.4" r="9.2"/><circle cx="724.3" cy="658.2" r="9.2"/><circle cx="727.6" cy="667.2" r="9.2"/><circle cx="727.8" cy="658.3" r="9.2"/><circle cx="728.5" cy="687.5" r="9.2"/><circle cx="729.7" cy="660.6" r="9.2"/><circle cx="731.5" cy="660.3" r="9.2"/><circle cx="731.7" cy="679.4" r="9.2"/><circle cx="734.2" cy="670.2" r="9.2"/><circle cx="735.2" cy="663.5" r="9.2"/><circle cx="735.9" cy="686.0" r="9.2"/><circle cx="736.3" cy="667.1" r="9.2"/><circle cx="739.0" cy="667.1" r="9.2"/><circle cx="741.0" cy="677.5" r="9.2"/><circle cx="742.6" cy="667.9" r="9.2"/><circle cx="742.6" cy="667.0" r="9.2"/><circle cx="743.3" cy="687.5" r="9.2"/><circle cx="744.1" cy="685.0" r="9.2"/><circle cx="745.4" cy="679.5" r="9.2"/><circle cx="746.4" cy="669.1" r="9.2"/><circle cx="747.4" cy="669.4" r="9.2"/><circle cx="748.1" cy="689.7" r="9.2"/><circle cx="748.3" cy="681.8" r="9.2"/><circle cx="749.3" cy="680.0" r="9.2"/><circle cx="751.3" cy="677.3" r="9.2"/><circle cx="752.3" cy="675.2" r="9.2"/><circle cx="752.6" cy="691.4" r="9.2"/><circle cx="754.0" cy="682.3" r="9.2"/><circle cx="754.8" cy="669.4" r="9.2"/><circle cx="755.5" cy="683.4" r="9.2"/><circle cx="755.5" cy="689.7" r="9.2"/><circle cx="756.7" cy="673.3" r="9.2"/><circle cx="758.3" cy="676.7" r="9.2"/><circle cx="758.5" cy="667.7" r="9.2"/><circle cx="760.4" cy="681.0" r="9.2"/><circle cx="761.9" cy="674.5" r="9.2"/><circle cx="762.2" cy="670.2" r="9.2"/><circle cx="762.9" cy="685.3" r="9.2"/><circle cx="763.6" cy="676.8" r="9.2"/><circle cx="765.0" cy="678.5" r="9.2"/><circle cx="766.9" cy="674.1" r="9.2"/><circle cx="768.5" cy="680.4" r="9.2"/><circle cx="769.6" cy="673.9" r="9.2"/><circle cx="769.9" cy="676.4" r="9.2"/><circle cx="770.3" cy="680.8" r="9.2"/><circle cx="771.4" cy="673.3" r="9.2"/><circle cx="773.5" cy="678.7" r="9.2"/><circle cx="774.4" cy="676.2" r="9.2"/><circle cx="775.9" cy="674.9" r="9.2"/><circle cx="777.0" cy="671.6" r="9.2"/><circle cx="777.7" cy="677.2" r="9.2"/><circle cx="777.7" cy="682.3" r="9.2"/><circle cx="779.1" cy="680.9" r="9.2"/><circle cx="780.6" cy="683.0" r="9.2"/><circle cx="781.6" cy="678.6" r="9.2"/><circle cx="783.1" cy="674.4" r="9.2"/><circle cx="784.4" cy="668.7" r="9.2"/><circle cx="784.5" cy="673.2" r="9.2"/><circle cx="785.1" cy="683.8" r="9.2"/><circle cx="786.0" cy="670.1" r="9.2"/><circle cx="787.0" cy="680.9" r="9.2"/><circle cx="788.6" cy="669.1" r="9.2"/><circle cx="790.7" cy="680.3" r="9.2"/><circle cx="791.7" cy="676.4" r="9.2"/><circle cx="791.9" cy="669.4" r="9.2"/><circle cx="792.6" cy="683.8" r="9.2"/><circle cx="793.3" cy="681.5" r="9.2"/><circle cx="794.9" cy="677.6" r="9.2"/><circle cx="796.2" cy="676.8" r="9.2"/><circle cx="798.3" cy="677.8" r="9.2"/><circle cx="799.3" cy="665.0" r="9.2"/><circle cx="799.6" cy="668.4" r="9.2"/><circle cx="800.0" cy="680.8" r="9.2"/><circle cx="801.3" cy="665.6" r="9.2"/><circle cx="802.2" cy="666.9" r="9.2"/><circle cx="804.1" cy="667.4" r="9.2"/><circle cx="805.1" cy="664.0" r="9.2"/><circle cx="806.5" cy="668.7" r="9.2"/><circle cx="806.7" cy="657.6" r="9.2"/><circle cx="807.4" cy="676.4" r="9.2"/><circle cx="808.0" cy="664.3" r="9.2"/><circle cx="809.2" cy="669.4" r="9.2"/><circle cx="810.3" cy="666.2" r="9.2"/><circle cx="811.9" cy="655.9" r="9.2"/><circle cx="812.1" cy="664.9" r="9.2"/><circle cx="813.4" cy="672.9" r="9.2"/><circle cx="814.1" cy="656.8" r="9.2"/><circle cx="814.2" cy="661.5" r="9.2"/><circle cx="814.8" cy="673.4" r="9.2"/><circle cx="815.8" cy="668.6" r="9.2"/><circle cx="817.5" cy="669.3" r="9.2"/><circle cx="818.8" cy="662.4" r="9.2"/><circle cx="820.5" cy="669.5" r="9.2"/><circle cx="821.5" cy="665.7" r="9.2"/><circle cx="822.0" cy="673.4" r="9.2"/><circle cx="822.2" cy="673.4" r="9.2"/><circle cx="823.1" cy="671.6" r="9.2"/><circle cx="824.8" cy="669.0" r="9.2"/><circle cx="826.2" cy="674.2" r="9.2"/><circle cx="827.9" cy="667.5" r="9.2"/><circle cx="828.9" cy="666.5" r="9.2"/><circle cx="829.2" cy="675.9" r="9.2"/><circle cx="829.6" cy="679.3" r="9.2"/><circle cx="831.2" cy="670.8" r="9.2"/><circle cx="832.5" cy="673.6" r="9.2"/><circle cx="834.3" cy="659.4" r="9.2"/><circle cx="835.4" cy="675.1" r="9.2"/><circle cx="836.3" cy="652.4" r="9.2"/><circle cx="836.3" cy="684.0" r="9.2"/><circle cx="837.0" cy="683.0" r="9.2"/><circle cx="837.3" cy="673.1" r="9.2"/><circle cx="838.5" cy="668.6" r="9.2"/><circle cx="840.6" cy="652.7" r="9.2"/><circle cx="841.5" cy="650.7" r="9.2"/><circle cx="841.7" cy="663.3" r="9.2"/><circle cx="843.2" cy="680.9" r="9.2"/><circle cx="843.7" cy="651.6" r="9.2"/><circle cx="844.4" cy="680.8" r="9.2"/><circle cx="844.7" cy="653.5" r="9.2"/><circle cx="846.3" cy="675.9" r="9.2"/><circle cx="847.6" cy="673.1" r="9.2"/><circle cx="849.2" cy="659.9" r="9.2"/><circle cx="849.6" cy="679.6" r="9.2"/><circle cx="850.2" cy="667.5" r="9.2"/><circle cx="851.1" cy="657.6" r="9.2"/><circle cx="851.8" cy="679.3" r="9.2"/><circle cx="852.3" cy="669.4" r="9.2"/><circle cx="853.3" cy="676.9" r="9.2"/><circle cx="855.1" cy="668.4" r="9.2"/><circle cx="856.7" cy="660.4" r="9.2"/><circle cx="858.2" cy="668.6" r="9.2"/><circle cx="858.5" cy="660.5" r="9.2"/><circle cx="859.2" cy="671.9" r="9.2"/><circle cx="859.4" cy="661.3" r="9.2"/><circle cx="860.8" cy="665.2" r="9.2"/><circle cx="862.4" cy="665.0" r="9.2"/><circle cx="863.4" cy="661.1" r="9.2"/><circle cx="865.5" cy="663.3" r="9.2"/><circle cx="865.9" cy="659.0" r="9.2"/><circle cx="866.6" cy="664.6" r="9.2"/><circle cx="866.6" cy="670.4" r="9.2"/><circle cx="868.3" cy="662.7" r="9.2"/><circle cx="869.4" cy="670.4" r="9.2"/><circle cx="870.6" cy="652.4" r="9.2"/><circle cx="872.3" cy="663.4" r="9.2"/><circle cx="873.3" cy="646.5" r="9.2"/><circle cx="874.0" cy="663.8" r="9.2"/><circle cx="874.0" cy="670.4" r="9.2"/><circle cx="875.5" cy="648.6" r="9.2"/><circle cx="876.8" cy="653.6" r="9.2"/><circle cx="878.2" cy="645.9" r="9.2"/><circle cx="878.5" cy="645.5" r="9.2"/><circle cx="879.9" cy="647.1" r="9.2"/><circle cx="880.7" cy="645.7" r="9.2"/><circle cx="881.4" cy="669.0" r="9.2"/><circle cx="881.5" cy="655.7" r="9.2"/><circle cx="882.6" cy="666.1" r="9.2"/><circle cx="884.2" cy="665.1" r="9.2"/><circle cx="885.9" cy="656.7" r="9.2"/><circle cx="887.6" cy="655.2" r="9.2"/><circle cx="888.1" cy="654.6" r="9.2"/><circle cx="888.8" cy="666.0" r="9.2"/><circle cx="888.9" cy="664.4" r="9.2"/><circle cx="890.7" cy="663.7" r="9.2"/><circle cx="892.0" cy="661.0" r="9.2"/><circle cx="893.7" cy="661.0" r="9.2"/><circle cx="895.3" cy="665.0" r="9.2"/><circle cx="895.6" cy="657.6" r="9.2"/><circle cx="896.1" cy="665.0" r="9.2"/><circle cx="896.3" cy="669.0" r="9.2"/><circle cx="897.9" cy="663.5" r="9.2"/><circle cx="899.1" cy="660.2" r="9.2"/><circle cx="900.6" cy="661.3" r="9.2"/><circle cx="901.9" cy="660.8" r="9.2"/><circle cx="903.0" cy="655.3" r="9.2"/><circle cx="903.3" cy="664.6" r="9.2"/><circle cx="903.7" cy="669.7" r="9.2"/><circle cx="904.8" cy="660.7" r="9.2"/><circle cx="907.0" cy="665.6" r="9.2"/><circle cx="908.3" cy="658.6" r="9.2"/><circle cx="910.2" cy="657.4" r="9.2"/><circle cx="910.4" cy="655.3" r="9.2"/><circle cx="911.1" cy="666.0" r="9.2"/><circle cx="911.6" cy="661.3" r="9.2"/><circle cx="913.0" cy="659.5" r="9.2"/><circle cx="914.5" cy="653.3" r="9.2"/><circle cx="915.8" cy="667.3" r="9.2"/><circle cx="917.5" cy="654.2" r="9.2"/><circle cx="917.8" cy="651.6" r="9.2"/><circle cx="918.5" cy="676.4" r="9.2"/><circle cx="918.8" cy="659.4" r="9.2"/><circle cx="920.4" cy="661.8" r="9.2"/><circle cx="921.7" cy="663.8" r="9.2"/><circle cx="923.2" cy="666.3" r="9.2"/><circle cx="923.7" cy="649.9" r="9.2"/><circle cx="923.7" cy="678.1" r="9.2"/><circle cx="924.4" cy="650.8" r="9.2"/><circle cx="924.7" cy="658.0" r="9.2"/><circle cx="925.8" cy="669.3" r="9.2"/><circle cx="927.8" cy="656.9" r="9.2"/><circle cx="929.6" cy="668.5" r="9.2"/><circle cx="931.9" cy="665.6" r="9.2"/><circle cx="933.6" cy="668.2" r="9.2"/><circle cx="935.4" cy="659.7" r="9.2"/><circle cx="937.9" cy="665.1" r="9.2"/><circle cx="940.1" cy="653.9" r="9.2"/><circle cx="941.5" cy="652.2" r="9.2"/><circle cx="942.3" cy="665.7" r="9.2"/><circle cx="944.4" cy="666.3" r="9.2"/><circle cx="946.5" cy="654.0" r="9.2"/><circle cx="946.7" cy="687.8" r="9.2"/><circle cx="948.6" cy="672.6" r="9.2"/><circle cx="950.1" cy="658.2" r="9.2"/><circle cx="950.7" cy="675.9" r="9.2"/><circle cx="952.3" cy="630.8" r="9.2"/><circle cx="953.7" cy="668.4" r="9.2"/><circle cx="954.1" cy="653.4" r="9.2"/><circle cx="956.3" cy="643.4" r="9.2"/><circle cx="956.3" cy="658.2" r="9.2"/><circle cx="956.4" cy="641.2" r="9.2"/><circle cx="958.4" cy="655.3" r="9.2"/><circle cx="958.8" cy="622.9" r="9.2"/><circle cx="959.0" cy="622.9" r="9.2"/><circle cx="959.3" cy="626.3" r="9.2"/><circle cx="959.8" cy="626.4" r="9.2"/><circle cx="960.6" cy="623.4" r="9.2"/><circle cx="960.9" cy="647.9" r="9.2"/><circle cx="961.4" cy="626.9" r="9.2"/><circle cx="962.2" cy="623.9" r="9.2"/><circle cx="963.0" cy="627.4" r="9.2"/><circle cx="963.3" cy="655.2" r="9.2"/><circle cx="963.8" cy="624.4" r="9.2"/><circle cx="964.4" cy="646.3" r="9.2"/><circle cx="964.6" cy="627.9" r="9.2"/><circle cx="965.4" cy="624.9" r="9.2"/><circle cx="965.7" cy="676.8" r="9.2"/><circle cx="965.9" cy="659.7" r="9.2"/><circle cx="967.4" cy="663.3" r="9.2"/><circle cx="968.9" cy="699.7" r="9.2"/><circle cx="969.7" cy="661.5" r="9.2"/><circle cx="970.7" cy="680.3" r="9.2"/><circle cx="971.1" cy="641.9" r="9.2"/><circle cx="971.6" cy="676.2" r="9.2"/><circle cx="973.4" cy="637.3" r="9.2"/><circle cx="975.6" cy="647.8" r="9.2"/><circle cx="975.9" cy="668.4" r="9.2"/><circle cx="978.0" cy="662.0" r="9.2"/><circle cx="979.3" cy="625.6" r="9.2"/><circle cx="979.9" cy="657.8" r="9.2"/><circle cx="981.6" cy="657.5" r="9.2"/><circle cx="983.4" cy="639.8" r="9.2"/><circle cx="985.1" cy="645.0" r="9.2"/><circle cx="987.0" cy="644.7" r="9.2"/><circle cx="987.4" cy="629.3" r="9.2"/><circle cx="989.1" cy="629.3" r="9.2"/><circle cx="990.8" cy="648.0" r="9.2"/><circle cx="992.6" cy="644.9" r="9.2"/><circle cx="994.7" cy="633.6" r="9.2"/><circle cx="994.8" cy="631.5" r="9.2"/><circle cx="996.4" cy="645.4" r="9.2"/><circle cx="997.0" cy="653.7" r="9.2"/><circle cx="997.9" cy="647.7" r="9.2"/><circle cx="1000.0" cy="650.8" r="9.2"/><circle cx="1000.7" cy="690.8" r="9.2"/><circle cx="1001.4" cy="664.9" r="9.2"/><circle cx="1003.0" cy="635.3" r="9.2"/><circle cx="1004.4" cy="628.5" r="9.2"/><circle cx="1004.4" cy="659.7" r="9.2"/><circle cx="1005.3" cy="638.4" r="9.2"/><circle cx="1006.3" cy="678.8" r="9.2"/><circle cx="1007.1" cy="658.2" r="9.2"/><circle cx="1007.4" cy="678.9" r="9.2"/><circle cx="1008.9" cy="663.4" r="9.2"/><circle cx="1010.8" cy="635.8" r="9.2"/><circle cx="1012.6" cy="627.8" r="9.2"/><circle cx="1012.6" cy="641.9" r="9.2"/><circle cx="1013.3" cy="629.9" r="9.2"/><circle cx="1014.4" cy="668.4" r="9.2"/><circle cx="1015.6" cy="640.8" r="9.2"/><circle cx="1017.0" cy="643.4" r="9.2"/><circle cx="1017.4" cy="657.3" r="9.2"/><circle cx="1019.3" cy="645.8" r="9.2"/><circle cx="1021.5" cy="656.9" r="9.2"/><circle cx="1023.4" cy="643.2" r="9.2"/><circle cx="1025.2" cy="653.0" r="9.2"/><circle cx="1027.6" cy="641.0" r="9.2"/><circle cx="1027.8" cy="664.0" r="9.2"/><circle cx="1029.5" cy="639.7" r="9.2"/><circle cx="1031.5" cy="658.5" r="9.2"/><circle cx="1033.6" cy="640.7" r="9.2"/><circle cx="1034.1" cy="634.5" r="9.2"/><circle cx="1035.3" cy="647.2" r="9.2"/><circle cx="1036.6" cy="655.9" r="9.2"/><circle cx="1036.7" cy="661.0" r="9.2"/><circle cx="1039.0" cy="655.1" r="9.2"/><circle cx="1041.0" cy="650.0" r="9.2"/><circle cx="1042.7" cy="650.4" r="9.2"/><circle cx="1044.6" cy="649.0" r="9.2"/><circle cx="1046.5" cy="646.8" r="9.2"/><circle cx="1048.9" cy="641.1" r="9.2"/><circle cx="1048.9" cy="671.2" r="9.2"/><circle cx="1050.3" cy="659.7" r="9.2"/><circle cx="1050.4" cy="647.8" r="9.2"/><circle cx="1052.4" cy="655.8" r="9.2"/><circle cx="1053.9" cy="640.7" r="9.2"/><circle cx="1056.2" cy="660.6" r="9.2"/><circle cx="1057.4" cy="664.0" r="9.2"/><circle cx="1057.8" cy="681.1" r="9.2"/><circle cx="1058.0" cy="658.7" r="9.2"/><circle cx="1058.9" cy="672.9" r="9.2"/><circle cx="1059.9" cy="668.0" r="9.2"/><circle cx="1062.1" cy="660.7" r="9.2"/><circle cx="1064.0" cy="655.5" r="9.2"/><circle cx="1065.8" cy="655.4" r="9.2"/><circle cx="1066.7" cy="637.4" r="9.2"/><circle cx="1067.8" cy="651.0" r="9.2"/><circle cx="1068.1" cy="643.4" r="9.2"/><circle cx="1069.5" cy="653.2" r="9.2"/><circle cx="1071.2" cy="656.4" r="9.2"/><circle cx="1072.8" cy="660.6" r="9.2"/><circle cx="1075.0" cy="652.1" r="9.2"/><circle cx="1077.5" cy="667.0" r="9.2"/><circle cx="1078.1" cy="661.1" r="9.2"/><circle cx="1078.1" cy="668.4" r="9.2"/><circle cx="1078.9" cy="657.8" r="9.2"/><circle cx="1079.8" cy="646.3" r="9.2"/><circle cx="1080.0" cy="671.5" r="9.2"/><circle cx="1080.5" cy="661.7" r="9.2"/><circle cx="1081.4" cy="662.0" r="9.2"/><circle cx="1082.2" cy="650.7" r="9.2"/><circle cx="1082.9" cy="655.8" r="9.2"/><circle cx="1084.0" cy="651.2" r="9.2"/><circle cx="1084.7" cy="648.4" r="9.2"/><circle cx="1085.3" cy="650.3" r="9.2"/><circle cx="1086.5" cy="646.2" r="9.2"/><circle cx="1087.1" cy="658.3" r="9.2"/><circle cx="1088.1" cy="656.8" r="9.2"/><circle cx="1088.9" cy="662.1" r="9.2"/><circle cx="1089.9" cy="650.9" r="9.2"/><circle cx="1090.0" cy="664.0" r="9.2"/><circle cx="1090.5" cy="647.5" r="9.2"/><circle cx="1091.1" cy="658.0" r="9.2"/><circle cx="1091.8" cy="657.0" r="9.2"/><circle cx="1092.6" cy="643.4" r="9.2"/><circle cx="1092.6" cy="652.0" r="9.2"/><circle cx="1093.6" cy="648.1" r="9.2"/><circle cx="1094.3" cy="658.9" r="9.2"/><circle cx="1095.2" cy="655.9" r="9.2"/><circle cx="1096.0" cy="653.6" r="9.2"/><circle cx="1096.8" cy="656.9" r="9.2"/><circle cx="1097.5" cy="651.3" r="9.2"/><circle cx="1097.8" cy="646.3" r="9.2"/><circle cx="1098.0" cy="651.6" r="9.2"/><circle cx="1098.9" cy="649.0" r="9.2"/><circle cx="1099.8" cy="663.8" r="9.2"/><circle cx="1100.5" cy="655.4" r="9.2"/><circle cx="1101.2" cy="656.1" r="9.2"/><circle cx="1101.9" cy="664.0" r="9.2"/><circle cx="1102.1" cy="657.9" r="9.2"/><circle cx="1103.0" cy="662.4" r="9.2"/><circle cx="1103.5" cy="649.8" r="9.2"/><circle cx="1104.2" cy="651.3" r="9.2"/><circle cx="1105.3" cy="658.6" r="9.2"/><circle cx="1106.2" cy="657.5" r="9.2"/><circle cx="1107.0" cy="659.4" r="9.2"/><circle cx="1107.5" cy="651.9" r="9.2"/><circle cx="1108.6" cy="663.0" r="9.2"/><circle cx="1109.5" cy="659.3" r="9.2"/><circle cx="1110.1" cy="655.6" r="9.2"/><circle cx="1110.6" cy="664.3" r="9.2"/><circle cx="1111.4" cy="652.0" r="9.2"/><circle cx="1112.5" cy="656.8" r="9.2"/><circle cx="1112.9" cy="653.7" r="9.2"/><circle cx="1114.0" cy="658.6" r="9.2"/><circle cx="1114.1" cy="649.3" r="9.2"/><circle cx="1114.8" cy="668.0" r="9.2"/><circle cx="1115.4" cy="663.9" r="9.2"/><circle cx="1116.4" cy="651.9" r="9.2"/><circle cx="1116.7" cy="663.7" r="9.2"/><circle cx="1118.2" cy="656.5" r="9.2"/><circle cx="1118.5" cy="674.5" r="9.2"/><circle cx="1119.2" cy="663.8" r="9.2"/><circle cx="1120.1" cy="663.1" r="9.2"/><circle cx="1120.8" cy="654.8" r="9.2"/><circle cx="1121.8" cy="654.2" r="9.2"/><circle cx="1122.5" cy="654.8" r="9.2"/><circle cx="1122.6" cy="672.9" r="9.2"/><circle cx="1123.0" cy="674.0" r="9.2"/><circle cx="1123.7" cy="651.1" r="9.2"/><circle cx="1124.3" cy="666.6" r="9.2"/><circle cx="1125.0" cy="663.6" r="9.2"/><circle cx="1125.8" cy="658.4" r="9.2"/><circle cx="1126.8" cy="666.6" r="9.2"/><circle cx="1127.9" cy="665.2" r="9.2"/><circle cx="1128.4" cy="656.6" r="9.2"/><circle cx="1129.1" cy="657.7" r="9.2"/><circle cx="1130.4" cy="652.3" r="9.2"/><circle cx="1130.9" cy="650.9" r="9.2"/><circle cx="1131.8" cy="664.1" r="9.2"/><circle cx="1131.9" cy="671.0" r="9.2"/><circle cx="1132.4" cy="656.0" r="9.2"/><circle cx="1133.3" cy="658.3" r="9.2"/><circle cx="1134.5" cy="663.4" r="9.2"/><circle cx="1134.8" cy="644.4" r="9.2"/><circle cx="1135.3" cy="659.4" r="9.2"/><circle cx="1136.2" cy="661.8" r="9.2"/><circle cx="1137.0" cy="656.5" r="9.2"/><circle cx="1137.7" cy="660.4" r="9.2"/><circle cx="1138.4" cy="656.9" r="9.2"/><circle cx="1139.4" cy="657.9" r="9.2"/><circle cx="1140.4" cy="660.4" r="9.2"/><circle cx="1141.0" cy="656.8" r="9.2"/><circle cx="1141.7" cy="666.5" r="9.2"/><circle cx="1142.6" cy="658.5" r="9.2"/><circle cx="1143.8" cy="649.4" r="9.2"/><circle cx="1144.4" cy="666.6" r="9.2"/><circle cx="1144.6" cy="656.8" r="9.2"/><circle cx="1144.9" cy="653.3" r="9.2"/><circle cx="1146.0" cy="651.5" r="9.2"/><circle cx="1146.8" cy="649.9" r="9.2"/><circle cx="1147.6" cy="658.4" r="9.2"/><circle cx="1148.8" cy="654.2" r="9.2"/><circle cx="1149.8" cy="649.7" r="9.2"/><circle cx="1150.8" cy="651.8" r="9.2"/><circle cx="1151.4" cy="659.8" r="9.2"/><circle cx="1152.3" cy="653.4" r="9.2"/><circle cx="1153.0" cy="649.5" r="9.2"/><circle cx="1153.8" cy="645.0" r="9.2"/><circle cx="1154.8" cy="661.9" r="9.2"/><circle cx="1155.1" cy="653.1" r="9.2"/><circle cx="1156.3" cy="650.3" r="9.2"/><circle cx="1156.9" cy="653.7" r="9.2"/><circle cx="1157.0" cy="662.1" r="9.2"/><circle cx="1157.6" cy="655.3" r="9.2"/><circle cx="1158.7" cy="655.4" r="9.2"/><circle cx="1159.1" cy="644.6" r="9.2"/><circle cx="1160.0" cy="649.5" r="9.2"/><circle cx="1161.4" cy="647.8" r="9.2"/><circle cx="1161.9" cy="652.3" r="9.2"/><circle cx="1162.4" cy="655.4" r="9.2"/><circle cx="1163.9" cy="654.6" r="9.2"/><circle cx="1164.5" cy="647.2" r="9.2"/><circle cx="1165.2" cy="652.2" r="9.2"/><circle cx="1166.2" cy="648.1" r="9.2"/><circle cx="1166.8" cy="651.4" r="9.2"/><circle cx="1167.9" cy="659.5" r="9.2"/><circle cx="1168.8" cy="645.7" r="9.2"/><circle cx="1169.2" cy="654.2" r="9.2"/><circle cx="1170.2" cy="646.9" r="9.2"/><circle cx="1171.1" cy="648.9" r="9.2"/><circle cx="1172.3" cy="644.6" r="9.2"/><circle cx="1173.2" cy="644.8" r="9.2"/><circle cx="1174.2" cy="648.8" r="9.2"/><circle cx="1174.6" cy="657.1" r="9.2"/><circle cx="1175.8" cy="640.3" r="9.2"/><circle cx="1176.3" cy="665.1" r="9.2"/><circle cx="1176.3" cy="636.2" r="9.2"/><circle cx="1176.6" cy="647.5" r="9.2"/><circle cx="1177.9" cy="651.2" r="9.2"/><circle cx="1178.6" cy="650.6" r="9.2"/><circle cx="1179.2" cy="650.3" r="9.2"/><circle cx="1180.0" cy="656.1" r="9.2"/><circle cx="1180.7" cy="653.8" r="9.2"/><circle cx="1181.7" cy="655.3" r="9.2"/><circle cx="1182.7" cy="650.9" r="9.2"/><circle cx="1183.8" cy="644.3" r="9.2"/><circle cx="1184.6" cy="651.1" r="9.2"/><circle cx="1185.3" cy="657.3" r="9.2"/><circle cx="1186.2" cy="653.0" r="9.2"/><circle cx="1187.4" cy="637.7" r="9.2"/><circle cx="1187.7" cy="651.3" r="9.2"/><circle cx="1188.6" cy="648.5" r="9.2"/><circle cx="1189.0" cy="655.2" r="9.2"/><circle cx="1190.3" cy="649.3" r="9.2"/><circle cx="1190.8" cy="648.3" r="9.2"/><circle cx="1191.9" cy="646.0" r="9.2"/><circle cx="1192.3" cy="658.8" r="9.2"/><circle cx="1193.2" cy="647.1" r="9.2"/><circle cx="1194.3" cy="644.9" r="9.2"/><circle cx="1195.2" cy="649.7" r="9.2"/><circle cx="1195.9" cy="643.8" r="9.2"/><circle cx="1196.5" cy="646.3" r="9.2"/><circle cx="1197.3" cy="649.5" r="9.2"/><circle cx="1198.4" cy="656.0" r="9.2"/><circle cx="1199.0" cy="649.1" r="9.2"/><circle cx="1200.0" cy="648.0" r="9.2"/><circle cx="1200.6" cy="663.0" r="9.2"/><circle cx="1201.3" cy="652.7" r="9.2"/><circle cx="1202.2" cy="637.7" r="9.2"/><circle cx="1202.7" cy="646.6" r="9.2"/><circle cx="1203.0" cy="665.1" r="9.2"/><circle cx="1203.0" cy="649.8" r="9.2"/><circle cx="1204.2" cy="643.7" r="9.2"/><circle cx="1205.0" cy="651.0" r="9.2"/><circle cx="1205.8" cy="654.2" r="9.2"/><circle cx="1206.4" cy="643.2" r="9.2"/><circle cx="1207.0" cy="641.1" r="9.2"/><circle cx="1208.2" cy="649.8" r="9.2"/><circle cx="1208.7" cy="657.3" r="9.2"/><circle cx="1209.5" cy="643.9" r="9.2"/><circle cx="1210.9" cy="657.0" r="9.2"/><circle cx="1211.8" cy="642.3" r="9.2"/><circle cx="1211.9" cy="657.7" r="9.2"/><circle cx="1212.3" cy="652.1" r="9.2"/><circle cx="1213.2" cy="646.3" r="9.2"/><circle cx="1213.9" cy="644.8" r="9.2"/><circle cx="1214.8" cy="638.4" r="9.2"/><circle cx="1215.2" cy="639.0" r="9.2"/><circle cx="1216.0" cy="652.3" r="9.2"/><circle cx="1216.8" cy="647.4" r="9.2"/><circle cx="1218.0" cy="646.5" r="9.2"/><circle cx="1218.9" cy="648.6" r="9.2"/><circle cx="1219.8" cy="638.3" r="9.2"/><circle cx="1220.8" cy="650.9" r="9.2"/><circle cx="1221.4" cy="645.0" r="9.2"/><circle cx="1222.2" cy="638.1" r="9.2"/><circle cx="1223.2" cy="649.4" r="9.2"/><circle cx="1223.7" cy="659.2" r="9.2"/><circle cx="1224.3" cy="638.5" r="9.2"/><circle cx="1225.0" cy="646.5" r="9.2"/><circle cx="1225.7" cy="651.2" r="9.2"/><circle cx="1226.6" cy="649.6" r="9.2"/><circle cx="1227.6" cy="637.8" r="9.2"/><circle cx="1228.1" cy="642.6" r="9.2"/><circle cx="1228.1" cy="636.2" r="9.2"/><circle cx="1229.2" cy="651.3" r="9.2"/><circle cx="1230.0" cy="650.3" r="9.2"/><circle cx="1231.2" cy="643.1" r="9.2"/><circle cx="1231.8" cy="658.0" r="9.2"/><circle cx="1232.9" cy="650.0" r="9.2"/><circle cx="1233.2" cy="650.4" r="9.2"/><circle cx="1234.5" cy="643.5" r="9.2"/><circle cx="1235.3" cy="656.5" r="9.2"/><circle cx="1236.1" cy="647.8" r="9.2"/><circle cx="1237.0" cy="628.8" r="9.2"/><circle cx="1237.3" cy="630.4" r="9.2"/><circle cx="1237.7" cy="648.4" r="9.2"/><circle cx="1239.0" cy="629.7" r="9.2"/><circle cx="1239.3" cy="640.3" r="9.2"/><circle cx="1240.7" cy="640.1" r="9.2"/><circle cx="1241.5" cy="641.1" r="9.2"/><circle cx="1242.4" cy="635.2" r="9.2"/><circle cx="1243.0" cy="659.2" r="9.2"/><circle cx="1243.6" cy="634.5" r="9.2"/><circle cx="1244.4" cy="648.7" r="9.2"/><circle cx="1245.1" cy="653.1" r="9.2"/><circle cx="1245.5" cy="644.0" r="9.2"/><circle cx="1246.9" cy="648.4" r="9.2"/><circle cx="1247.3" cy="648.0" r="9.2"/><circle cx="1248.7" cy="640.7" r="9.2"/><circle cx="1248.9" cy="625.1" r="9.2"/><circle cx="1249.3" cy="639.4" r="9.2"/><circle cx="1250.2" cy="643.6" r="9.2"/><circle cx="1251.0" cy="644.3" r="9.2"/><circle cx="1251.9" cy="633.4" r="9.2"/><circle cx="1252.5" cy="636.9" r="9.2"/><circle cx="1253.3" cy="632.4" r="9.2"/><circle cx="1253.3" cy="623.6" r="9.2"/><circle cx="1254.1" cy="627.8" r="9.2"/><circle cx="1255.1" cy="634.6" r="9.2"/><circle cx="1256.0" cy="650.3" r="9.2"/><circle cx="1256.7" cy="644.2" r="9.2"/><circle cx="1257.5" cy="639.0" r="9.2"/><circle cx="1258.6" cy="637.9" r="9.2"/><circle cx="1259.5" cy="639.1" r="9.2"/><circle cx="1259.9" cy="637.8" r="9.2"/><circle cx="1261.1" cy="634.1" r="9.2"/><circle cx="1261.9" cy="631.1" r="9.2"/><circle cx="1262.1" cy="635.2" r="9.2"/><circle cx="1263.6" cy="641.3" r="9.2"/><circle cx="1264.9" cy="641.6" r="9.2"/><circle cx="1265.2" cy="654.7" r="9.2"/><circle cx="1266.4" cy="640.9" r="9.2"/><circle cx="1268.0" cy="638.6" r="9.2"/><circle cx="1269.5" cy="651.3" r="9.2"/><circle cx="1271.3" cy="659.0" r="9.2"/><circle cx="1272.6" cy="659.2" r="9.2"/><circle cx="1273.2" cy="629.8" r="9.2"/><circle cx="1273.3" cy="599.2" r="9.2"/><circle cx="1274.8" cy="647.5" r="9.2"/><circle cx="1276.4" cy="641.2" r="9.2"/><circle cx="1277.0" cy="608.8" r="9.2"/><circle cx="1277.4" cy="641.7" r="9.2"/><circle cx="1279.3" cy="631.4" r="9.2"/><circle cx="1280.8" cy="640.1" r="9.2"/><circle cx="1282.5" cy="638.5" r="9.2"/><circle cx="1283.0" cy="614.5" r="9.2"/><circle cx="1283.9" cy="648.0" r="9.2"/><circle cx="1285.5" cy="631.4" r="9.2"/><circle cx="1287.0" cy="613.0" r="9.2"/><circle cx="1287.2" cy="654.4" r="9.2"/><circle cx="1289.1" cy="650.3" r="9.2"/><circle cx="1290.4" cy="598.4" r="9.2"/><circle cx="1290.5" cy="611.5" r="9.2"/><circle cx="1290.8" cy="651.5" r="9.2"/><circle cx="1291.9" cy="657.7" r="9.2"/><circle cx="1292.4" cy="631.7" r="9.2"/><circle cx="1292.6" cy="589.6" r="9.2"/><circle cx="1293.0" cy="610.0" r="9.2"/><circle cx="1293.8" cy="626.3" r="9.2"/><circle cx="1294.8" cy="595.5" r="9.2"/><circle cx="1295.2" cy="655.8" r="9.2"/><circle cx="1295.6" cy="571.8" r="9.2"/><circle cx="1296.0" cy="610.5" r="9.2"/><circle cx="1296.3" cy="648.8" r="9.2"/><circle cx="1296.9" cy="656.1" r="9.2"/><circle cx="1298.4" cy="637.7" r="9.2"/><circle cx="1298.5" cy="603.6" r="9.2"/><circle cx="1299.3" cy="635.5" r="9.2"/><circle cx="1300.1" cy="623.1" r="9.2"/><circle cx="1301.5" cy="629.0" r="9.2"/><circle cx="1303.8" cy="633.0" r="9.2"/><circle cx="1305.2" cy="590.3" r="9.2"/><circle cx="1307.4" cy="601.4" r="9.2"/><circle cx="1309.6" cy="651.0" r="9.2"/><circle cx="1310.4" cy="610.3" r="9.2"/></g>
<polyline points="192.2,571.1 193.6,567.1 194.9,566.0 196.3,562.8 197.7,558.4 199.0,556.0 200.4,552.9 201.4,550.2 202.3,547.2 203.3,542.1 204.3,538.6 205.3,537.5 206.3,533.2 207.1,531.1 207.9,526.1 208.7,524.3 209.5,522.1 210.3,517.8 211.7,516.5 213.1,513.2 214.4,507.6 216.9,505.9 219.4,505.5 221.9,504.9 225.6,502.6 229.3,501.5 232.2,499.8 235.2,496.5 236.9,494.1 238.6,491.7 240.4,488.9 242.6,486.3 244.8,484.5 246.5,481.7 248.3,479.6 250.0,476.5 251.7,473.3 253.5,473.0 255.2,469.8 256.9,467.5 258.6,463.8 260.4,463.6 261.9,460.2 263.3,455.3 264.8,452.9 266.3,451.0 268.3,449.0 270.2,447.6 272.2,444.2 274.7,444.1 277.2,442.4 279.6,440.2 283.3,440.0 287.0,439.8 289.6,440.2 292.2,439.7 293.7,442.3 295.2,443.2 298.5,443.0 301.9,443.8 304.3,441.3 306.8,439.3 309.3,438.9 312.2,437.4 315.2,435.3 318.1,432.6 320.6,433.9 323.1,435.2 325.6,437.0 328.0,437.6 330.5,438.5 333.0,440.0 335.4,440.2 337.9,441.7 340.4,445.0 344.1,447.2 347.8,447.7 350.2,448.4 352.7,449.0 355.2,451.1 358.9,453.9 362.6,454.8 365.0,454.2 367.4,455.0 370.0,456.3 372.4,457.1 374.8,458.3 377.4,459.0 380.0,460.5 383.8,460.0 387.5,460.7 391.2,461.4 394.9,458.5 397.5,459.1 400.1,457.7 403.1,458.6 406.1,458.9 409.8,460.3 413.5,460.7 417.2,461.9 421.0,462.6 424.7,462.7 428.4,466.0 432.1,466.3 435.9,466.5 439.6,468.8 443.3,470.2 447.1,470.2 450.8,470.6 454.5,470.4 458.2,469.8 461.9,469.8 465.7,469.4 469.4,468.2 473.1,468.8 476.6,469.4 480.0,471.2 483.0,471.7 485.9,471.2 489.6,470.8 493.3,470.5 497.0,468.6 500.7,469.8 504.4,469.7 508.1,468.5 511.9,469.1 515.6,469.8 519.3,472.2 523.0,471.2 526.7,471.2 530.4,472.9 534.1,472.5 537.8,472.2 541.5,472.8 545.2,474.1 547.6,474.7 550.0,476.4 553.7,478.0 557.4,477.7 561.1,476.9 564.8,477.0 568.5,475.8 572.2,476.7 575.9,476.5 579.6,475.5 583.3,474.9 587.0,476.6 590.7,475.2 594.4,474.0 598.1,474.4 601.9,474.2 605.6,472.0 609.3,472.0 613.0,472.0 616.7,473.2 620.4,471.3 624.1,472.4 627.8,471.2 631.5,469.8 635.2,468.7 638.9,470.6 641.4,471.7 643.8,472.5 646.3,473.3 650.0,474.8 653.7,474.5 657.4,475.4 661.1,475.1 663.6,477.6 666.0,477.8 668.5,480.2 672.2,481.3 675.9,480.3 680.0,478.4 682.5,477.6 685.0,473.9 687.5,473.4 691.2,472.1 694.9,470.5 698.6,470.4 702.4,470.1 706.1,471.7 709.8,468.7 713.5,471.3 717.3,472.2 721.0,470.6 724.7,469.0 726.5,469.0 728.4,467.5 730.3,465.3 732.2,463.2 735.9,463.3 739.6,463.6 743.4,463.2 747.1,464.5 750.8,462.5 754.5,460.6 758.2,459.7 762.0,460.6 764.7,459.3 767.3,459.5 770.0,458.6 772.5,459.1 775.0,458.2 777.5,454.8 781.2,455.6 784.9,456.3 788.6,457.0 792.4,455.4 796.1,453.1 799.8,451.6 803.5,452.1 807.3,451.8 811.0,452.1 814.7,450.5 817.7,450.1 820.7,447.7 822.9,444.9 825.1,444.0 829.6,442.7 833.4,444.4 837.1,443.1 840.8,442.9 844.5,444.5 848.2,443.4 852.0,445.6 855.0,444.1 857.9,443.6 860.0,438.6 863.8,437.8 867.5,436.9 871.2,438.1 874.9,437.0 878.6,437.6 882.4,437.0 886.1,435.0 889.8,436.1 893.5,434.5 897.3,434.0 901.0,433.7 904.7,435.5 908.5,434.9 912.2,434.6 915.9,432.9 919.6,433.3 923.4,433.8 927.1,432.7 930.8,432.8 934.5,431.6 938.2,430.4 942.0,430.2 945.7,431.5 949.4,430.2 952.9,430.6 956.5,428.9 960.0,427.9 963.5,429.1 967.0,429.0 970.7,425.4 974.4,425.6 977.4,421.1 979.6,424.1 981.9,429.2 985.6,425.8 989.3,425.2 991.7,429.0 994.2,429.2 996.7,430.1 998.9,431.7 1001.1,433.4 1004.1,434.0 1007.0,431.5 1011.5,435.2 1014.0,431.8 1016.4,431.4 1018.9,429.3 1021.4,426.1 1023.8,424.5 1026.3,423.6 1030.0,421.5 1033.7,421.9 1037.4,419.5 1041.1,418.7 1044.8,420.2 1048.5,417.2 1052.2,416.6 1055.9,414.7 1059.6,413.9 1063.3,412.9 1065.6,416.3 1067.8,417.6 1069.3,420.5 1070.7,421.2 1072.2,424.4 1075.2,426.6 1078.1,428.7 1081.9,426.4 1085.6,425.7 1089.3,424.1 1093.0,421.6 1096.7,422.0 1100.4,421.0 1104.1,420.4 1107.8,419.6 1111.5,419.8 1115.2,421.3 1117.6,420.8 1120.0,422.3 1123.7,422.6 1127.4,423.8 1131.1,421.9 1134.8,421.3 1137.3,420.2 1139.8,418.9 1142.2,419.1 1144.8,418.4 1147.4,416.1 1150.0,415.4 1152.5,414.7 1155.0,413.5 1157.5,412.3 1161.2,410.6 1164.9,409.3 1168.7,408.8 1172.4,407.1 1176.1,407.3 1179.8,404.9 1183.5,403.8 1187.3,404.2 1191.0,402.1 1194.7,402.4 1198.5,401.6 1202.2,402.6 1205.9,400.3 1209.6,400.9 1213.3,400.9 1217.1,398.3 1220.8,401.3 1222.7,401.1 1224.5,404.5 1228.2,407.4 1232.0,407.7 1235.7,407.1 1239.4,405.8 1243.1,406.1 1246.5,406.8 1250.0,404.7 1253.3,403.7 1257.0,400.1 1260.7,400.7 1264.4,397.3 1268.1,396.9 1271.9,397.8 1275.6,396.7 1279.3,396.7 1283.0,396.1 1286.7,395.5 1290.4,395.0 1294.1,393.6 1297.8,394.3 1301.5,393.9 1305.2,395.8 1308.9,394.5 1312.6,392.3 1315.9,389.9 1319.3,390.5" fill="none" stroke="#ff0000" stroke-width="10.4" stroke-linejoin="round" stroke-linecap="butt"/>
<polyline points="173.3,790.1 174.0,787.3 174.8,783.3 175.5,777.3 176.3,773.4 177.0,771.3 178.4,767.3 179.8,763.4 181.1,758.8 182.5,755.8 183.9,752.0 185.2,748.6 186.6,744.1 187.9,741.4 189.3,737.9 190.7,735.3 191.9,732.5 193.2,729.0 194.5,724.6 195.8,721.0 199.2,718.0 202.6,714.9 203.7,711.5 204.9,709.1 206.0,705.3 208.3,702.4 210.5,700.5 212.8,696.5 216.2,694.0 219.6,690.7 223.6,688.7 227.6,688.0 231.6,686.2 235.0,685.8 238.4,685.7 241.8,683.6 245.2,681.2 248.6,681.4 252.0,679.8 255.4,678.2 258.8,676.5 262.2,674.0 265.6,671.1 269.0,667.1 272.4,669.4 275.8,670.3 279.3,669.2 282.7,671.2 286.1,671.6 289.5,671.6 292.9,671.8 296.3,671.7 299.7,672.7 303.1,669.1 306.5,667.4 309.9,662.8 313.3,660.7 316.7,659.6 320.1,657.4 323.5,656.5 327.0,657.7 330.4,657.5 333.8,657.2 337.2,659.1 340.6,661.9 344.8,664.9 349.1,665.8 350.0,669.4 353.7,669.0 357.4,671.7 361.1,671.7 364.8,674.7 368.5,676.0 372.2,677.3 375.9,677.7 379.6,678.4 383.3,679.0 387.0,679.1 390.7,680.3 394.4,682.5 398.1,684.7 401.9,685.0 405.6,685.9 409.3,690.0 412.2,688.2 415.2,687.2 418.1,687.0 421.1,689.8 424.1,689.2 427.0,691.8 430.0,692.0 433.0,693.0 435.9,695.3 438.9,694.2 442.6,696.6 446.3,698.9 450.0,698.6 453.7,699.6 457.4,704.2 461.1,706.0 464.8,709.3 468.5,710.3 472.2,711.1 475.9,710.6 479.6,711.1 483.3,708.9 487.0,713.2 490.7,713.2 494.4,715.7 498.1,714.7 501.9,716.4 505.6,718.8 507.8,719.5 510.0,721.8 513.0,720.8 515.9,717.8 520.4,716.2 524.1,720.0 527.8,719.5 531.5,718.4 535.2,718.4 540.0,719.1 543.7,720.1 547.4,719.4 551.1,719.5 554.8,718.4 558.5,718.7 562.2,718.7 565.9,716.4 569.6,714.6 573.3,712.8 577.0,711.5 580.7,710.4 584.4,709.1 588.1,708.5 591.9,709.6 595.6,709.5 599.3,709.7 603.7,706.8 607.4,707.9 611.1,706.1 617.0,707.2 619.6,709.7 622.2,712.9 625.6,709.1 628.9,708.1 632.6,706.0 636.3,706.5 640.0,703.8 643.7,700.6 647.4,703.4 651.1,703.9 654.8,702.6 658.5,701.4 662.2,702.8 665.9,703.8 669.6,705.1 673.3,704.8 677.0,704.0 680.7,702.1 684.4,700.7 688.1,697.4 691.9,696.5 695.6,694.5 698.5,692.4 701.5,689.5 703.0,693.9 704.4,697.6 705.9,700.5 707.9,697.9 709.9,695.2 711.9,691.0 713.8,694.0 715.8,697.9 717.8,700.1 719.4,698.0 721.0,693.3 722.7,689.4 724.3,686.1 725.9,682.6 730.0,685.5 733.7,687.4 737.4,688.4 741.1,688.0 744.8,688.8 748.5,687.0 752.2,687.9 755.9,687.7 759.6,686.8 763.3,685.7 767.0,685.5 770.7,685.3 774.4,683.7 778.1,683.8 781.9,683.3 785.6,681.8 789.3,680.8 793.0,681.4 796.7,679.2 800.4,678.9 804.1,679.1 807.8,678.7 811.5,678.3 815.2,680.0 818.9,678.5 822.6,677.3 826.3,678.5 830.0,676.7 833.7,676.9 837.4,678.5 841.1,678.5 844.8,676.5 848.5,677.2 852.2,676.0 855.9,675.1 859.6,675.2 863.3,676.8 867.0,675.9 870.7,676.8 874.4,675.5 878.1,675.4 881.9,674.8 885.6,677.9 889.3,675.5 893.0,675.3 896.7,676.0 900.4,677.2 904.1,679.1 907.8,679.3 911.5,678.3 915.2,677.9 920.0,677.8 923.7,679.3 927.4,678.4 931.1,678.4 934.8,677.1 938.5,677.3 942.2,680.7 945.9,682.4 949.6,683.8 953.3,685.5 957.0,687.4 960.0,690.6 960.4,687.2 960.9,681.8 961.3,678.3 961.8,674.0 962.2,671.0 963.1,674.4 964.1,678.4 965.0,681.8 965.9,684.3 968.1,679.7 970.4,675.8 971.1,679.0 971.9,683.1 972.6,687.4 973.3,691.7 974.1,694.6 974.8,698.8 975.4,693.3 976.0,690.0 976.6,687.7 977.2,681.8 977.8,678.6 978.4,673.6 979.0,669.5 979.6,667.3 980.1,663.4 980.7,658.4 981.5,660.9 982.2,665.0 983.0,668.5 983.7,673.3 984.7,677.3 985.7,680.6 986.7,684.8 991.1,686.8 992.2,684.1 993.3,681.4 994.4,677.2 995.6,671.9 997.8,675.9 1000.0,679.3 1004.4,679.7 1008.9,679.8 1013.3,675.8 1014.8,672.6 1016.3,668.2 1018.5,671.9 1020.7,673.6 1023.7,672.3 1026.7,670.6 1030.4,669.8 1034.1,667.3 1037.0,671.6 1040.0,675.3 1043.0,674.3 1045.9,675.9 1049.6,675.1 1053.3,674.1 1057.0,674.9 1060.7,675.4 1064.4,673.4 1068.1,671.3 1071.9,672.1 1075.6,670.3 1079.3,671.6 1083.0,671.8 1086.7,671.3 1090.4,670.8 1094.1,668.5 1097.8,668.7 1101.5,666.7 1105.2,665.9 1108.9,666.3 1112.6,665.1 1116.3,666.0 1120.0,669.5 1123.7,669.3 1127.4,669.0 1131.1,667.3 1134.8,666.6 1138.5,662.8 1142.2,663.2 1145.9,661.2 1149.6,659.4 1153.3,658.7 1157.0,657.1 1160.7,653.0 1164.4,652.5 1167.4,649.5 1171.1,649.9 1174.8,653.1 1179.3,652.0 1183.0,649.6 1186.7,649.5 1190.4,646.1 1194.1,645.4 1197.8,643.8 1201.5,642.3 1205.2,642.7 1208.9,642.1 1212.6,641.8 1216.3,644.0 1220.0,643.7 1223.7,645.4 1227.4,646.6 1231.1,647.4 1234.8,646.2 1238.5,645.7 1242.2,644.0 1245.9,643.3 1249.6,641.4 1253.3,640.1 1257.0,639.6 1260.7,637.3 1264.4,636.7 1268.1,637.6 1271.9,635.1 1275.6,635.3 1279.3,634.3 1283.0,632.3 1286.7,632.2 1290.4,631.7 1294.1,631.2 1297.8,628.7 1301.5,629.5 1305.2,630.8 1308.9,629.5 1312.6,627.6 1315.9,628.4 1319.3,631.2" fill="none" stroke="#0000ff" stroke-width="10.4" stroke-linejoin="round" stroke-linecap="butt"/>
<rect x="139.5" y="11.5" width="1202.0" height="896.0" fill="none" stroke="#000" stroke-width="3" stroke-linejoin="miter"/>
<g stroke="#000" stroke-width="3"><line x1="246.50" y1="907.5" x2="246.50" y2="919.5"/><line x1="379.50" y1="907.5" x2="379.50" y2="919.5"/><line x1="513.50" y1="907.5" x2="513.50" y2="919.5"/><line x1="647.50" y1="907.5" x2="647.50" y2="919.5"/><line x1="780.50" y1="907.5" x2="780.50" y2="919.5"/><line x1="914.50" y1="907.5" x2="914.50" y2="919.5"/><line x1="1047.50" y1="907.5" x2="1047.50" y2="919.5"/><line x1="1181.50" y1="907.5" x2="1181.50" y2="919.5"/><line x1="1314.50" y1="907.5" x2="1314.50" y2="919.5"/><line x1="139.5" y1="907.50" x2="127.5" y2="907.50"/><line x1="139.5" y1="795.50" x2="127.5" y2="795.50"/><line x1="139.5" y1="683.50" x2="127.5" y2="683.50"/><line x1="139.5" y1="571.50" x2="127.5" y2="571.50"/><line x1="139.5" y1="459.50" x2="127.5" y2="459.50"/><line x1="139.5" y1="347.50" x2="127.5" y2="347.50"/><line x1="139.5" y1="235.50" x2="127.5" y2="235.50"/><line x1="139.5" y1="123.50" x2="127.5" y2="123.50"/><line x1="139.5" y1="11.50" x2="127.5" y2="11.50"/></g>
<text class="tk" x="246.34" y="957.5" text-anchor="middle">0.50</text><text class="tk" x="379.90" y="957.5" text-anchor="middle">0.75</text><text class="tk" x="513.46" y="957.5" text-anchor="middle">1.00</text><text class="tk" x="647.01" y="957.5" text-anchor="middle">1.25</text><text class="tk" x="780.57" y="957.5" text-anchor="middle">1.50</text><text class="tk" x="914.12" y="957.5" text-anchor="middle">1.75</text><text class="tk" x="1047.68" y="957.5" text-anchor="middle">2.00</text><text class="tk" x="1181.23" y="957.5" text-anchor="middle">2.25</text><text class="tk" x="1314.79" y="957.5" text-anchor="middle">2.50</text>
<text class="tk" x="116" y="921.20" text-anchor="end">0.7</text><text class="tk" x="116" y="809.20" text-anchor="end">0.8</text><text class="tk" x="116" y="697.20" text-anchor="end">0.9</text><text class="tk" x="116" y="585.20" text-anchor="end">1.0</text><text class="tk" x="116" y="473.20" text-anchor="end">1.1</text><text class="tk" x="116" y="361.20" text-anchor="end">1.2</text><text class="tk" x="116" y="249.20" text-anchor="end">1.3</text><text class="tk" x="116" y="137.20" text-anchor="end">1.4</text><text class="tk" x="116" y="25.20" text-anchor="end">1.5</text>
<text class="al" x="741" y="1015" text-anchor="middle">Wavelength (<tspan class="it">μm</tspan>)</text>
<text class="al" style="letter-spacing:-0.2px" transform="translate(39,460) rotate(-90)" text-anchor="middle">Normalized Reflectance</text>
<rect x="156.3" y="28.8" width="624.8" height="200.1" rx="7" ry="7" fill="#fff" fill-opacity="0.8" stroke="#333" stroke-width="3.4"/>
<circle cx="185" cy="66" r="9.2" fill="#999" stroke="#000" stroke-width="3.3"/><line x1="164" y1="129.6" x2="206" y2="129.6" stroke="#ff0000" stroke-width="12"/><line x1="164" y1="193.6" x2="206" y2="193.6" stroke="#0000ff" stroke-width="12"/>
<text class="lg" x="213.4" y="79">1996 FG3 (04-15-2022)</text><text class="lg" x="213.4" y="140">Y-86789 (&lt;125 <tspan class="it">μ</tspan>m)</text><text class="lg" x="213.4" y="204.5">Murchison (&lt;63 <tspan class="it">μ</tspan>m)</text>
</svg>
</body></html>
